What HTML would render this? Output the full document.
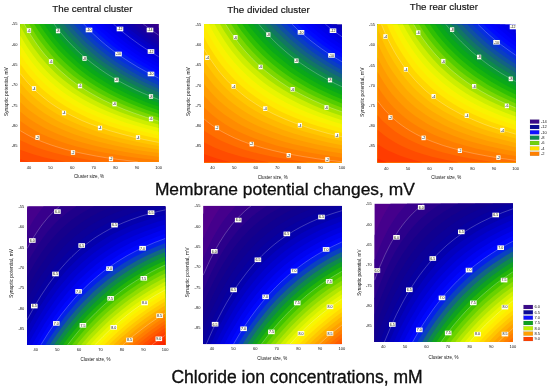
<!DOCTYPE html>
<html><head><meta charset="utf-8"><title>Contour plots</title>
<style>html,body{margin:0;padding:0;background:#fff}svg{display:block}text{font-family:"Liberation Sans",sans-serif;fill:#111}</style></head><body>
<svg width="550" height="389" viewBox="0 0 550 389">
<rect width="550" height="389" fill="#fff"/>
<g>
<rect x="20.3" y="24.0" width="138.3" height="137.8" fill="#3b0085"/>
<path d="M23.8 24.0L158.1 24.0L158.6 24.4L158.6 161.8L20.3 161.8L20.3 24.0Z" fill="#35008a"/>
<path d="M23.8 24.0L153.1 24.0L158.6 28.0L158.6 161.8L20.3 161.8L20.3 24.0Z" fill="#2e008f"/>
<path d="M23.8 24.0L148.1 24.0L152.8 27.4L158.6 31.5L158.6 161.8L20.3 161.8L20.3 24.0Z" fill="#270094"/>
<path d="M23.8 24.0L143.2 24.0L151.7 30.3L158.6 35.1L158.6 161.8L20.3 161.8L20.3 24.0Z" fill="#200099"/>
<path d="M23.8 24.0L138.2 24.0L142.7 27.4L148.2 31.6L158.6 38.7L158.6 161.8L20.3 161.8L20.3 24.0Z" fill="#1800a0"/>
<path d="M23.8 24.0L133.3 24.0L137.9 27.6L144.8 32.8L151.7 37.7L158.6 42.3L158.6 161.8L20.3 161.8L20.3 24.0Z" fill="#1000a7"/>
<path d="M23.8 24.0L128.3 24.0L134.4 28.9L141.5 34.3L151.4 41.2L158.6 45.8L158.6 161.8L20.3 161.8L20.3 24.0Z" fill="#0a00b2"/>
<path d="M23.8 24.0L123.4 24.0L131.8 30.9L140.9 37.8L148.2 42.8L158.6 49.4L158.6 161.8L20.3 161.8L20.3 24.0Z" fill="#0600c1"/>
<path d="M23.8 24.0L118.4 24.0L122.4 27.4L127.5 31.6L130.9 34.3L137.9 39.5L148.2 46.6L158.6 53.0L158.6 161.8L20.3 161.8L20.3 24.0Z" fill="#0200d0"/>
<path d="M23.8 24.0L113.4 24.0L117.3 27.4L124.0 33.0L130.1 37.8L134.8 41.2L139.6 44.7L144.8 48.1L151.7 52.5L158.6 56.6L158.6 161.8L20.3 161.8L20.3 24.0Z" fill="#0000dd"/>
<path d="M23.8 24.0L108.5 24.0L113.7 28.7L120.3 34.3L124.7 37.8L130.9 42.5L137.9 47.4L144.2 51.6L151.7 56.2L158.6 60.2L158.6 161.8L20.3 161.8L20.3 24.0Z" fill="#0000e9"/>
<path d="M23.8 24.0L103.5 24.0L110.2 30.1L115.0 34.3L120.6 38.8L128.3 44.7L134.4 49.0L143.6 55.0L151.7 59.9L158.6 63.7L158.6 161.8L20.3 161.8L20.3 24.0Z" fill="#0000f4"/>
<path d="M23.8 24.0L98.6 24.0L105.9 30.9L113.7 37.6L120.6 43.2L127.3 48.1L134.4 53.0L143.0 58.5L151.7 63.6L158.6 67.3L158.6 161.8L20.3 161.8L20.3 24.0Z" fill="#0003fc"/>
<path d="M23.8 24.0L93.6 24.0L100.7 30.9L108.4 37.8L116.9 44.7L124.0 50.0L131.3 55.0L141.3 61.3L148.2 65.3L158.6 70.9L158.6 161.8L20.3 161.8L20.3 24.0Z" fill="#000aff"/>
<path d="M23.8 24.0L88.7 24.0L95.5 30.9L103.3 38.1L111.2 44.7L120.3 51.6L127.5 56.6L137.9 63.2L148.2 69.1L158.6 74.5L158.6 161.8L20.3 161.8L20.3 24.0Z" fill="#031ef2"/>
<path d="M23.8 24.0L83.7 24.0L90.3 30.9L93.8 34.3L99.8 39.8L105.5 44.7L109.8 48.1L117.1 53.7L120.6 56.1L127.5 60.7L137.9 67.1L148.2 72.8L158.6 78.0L158.6 161.8L20.3 161.8L20.3 24.0Z" fill="#072fde"/>
<path d="M23.8 24.0L78.8 24.0L86.0 31.8L92.1 37.8L95.9 41.2L103.9 48.1L108.3 51.6L113.7 55.6L117.7 58.5L124.0 62.7L128.2 65.3L134.4 69.1L140.0 72.2L146.4 75.7L151.7 78.3L158.6 81.6L158.6 161.8L20.3 161.8L20.3 24.0Z" fill="#0a3ec3"/>
<path d="M23.8 24.0L73.8 24.0L79.1 29.9L82.5 33.6L86.7 37.8L90.3 41.2L94.1 44.7L99.8 49.6L106.7 55.0L111.4 58.5L116.3 61.9L121.5 65.3L127.0 68.8L132.9 72.2L139.1 75.7L145.8 79.1L151.7 82.0L158.6 85.2L158.6 161.8L20.3 161.8L20.3 24.0Z" fill="#0f51a2"/>
<path d="M23.8 24.0L68.8 24.0L72.2 27.9L77.9 34.3L82.5 39.0L86.0 42.4L92.3 48.1L96.3 51.6L100.6 55.0L106.7 59.7L110.2 62.2L117.1 66.9L124.0 71.2L130.9 75.2L137.9 78.9L144.8 82.4L151.7 85.7L158.6 88.8L158.6 161.8L20.3 161.8L20.3 24.0Z" fill="#126382"/>
<path d="M23.8 24.0L63.9 24.0L68.7 29.9L72.6 34.3L79.1 41.1L82.5 44.5L86.4 48.1L92.9 53.8L98.7 58.5L103.3 61.9L108.1 65.3L113.7 69.1L120.6 73.4L127.5 77.4L134.4 81.1L141.3 84.6L148.2 87.8L158.6 92.3L158.6 161.8L20.3 161.8L20.3 24.0Z" fill="#127664"/>
<path d="M23.8 24.0L58.9 24.0L64.4 30.9L68.7 35.9L73.6 41.2L79.1 46.7L84.3 51.6L89.4 56.0L96.4 61.6L101.4 65.3L106.7 69.0L113.7 73.5L120.6 77.7L127.5 81.5L136.2 86.0L143.4 89.5L151.2 92.9L158.6 95.9L158.6 161.8L20.3 161.8L20.3 24.0Z" fill="#0d8b49"/>
<path d="M23.8 24.0L54.0 24.0L59.2 30.9L65.0 37.8L68.7 41.9L74.7 48.1L79.1 52.3L86.1 58.5L92.9 63.9L99.5 68.8L106.7 73.7L113.7 78.0L120.6 82.0L127.5 85.7L135.0 89.5L142.5 92.9L150.6 96.3L158.6 99.5L158.6 161.8L20.3 161.8L20.3 24.0Z" fill="#0a9c30"/>
<path d="M23.8 24.0L49.0 24.0L54.1 30.9L58.3 36.3L62.5 41.2L68.9 48.1L75.6 54.7L79.8 58.4L86.0 63.7L92.9 69.0L99.8 73.9L107.9 79.1L117.1 84.5L124.0 88.1L133.8 92.9L141.3 96.2L149.9 99.8L158.6 103.1L158.6 161.8L20.3 161.8L20.3 24.0Z" fill="#0aa819"/>
<path d="M23.8 24.0L44.1 24.0L48.9 30.9L54.1 37.8L59.9 44.7L65.2 50.4L72.2 57.3L77.3 61.9L82.5 66.3L90.3 72.2L96.4 76.5L100.4 79.1L105.9 82.6L113.7 87.0L120.6 90.6L127.5 94.0L137.9 98.7L148.2 102.9L158.6 106.6L158.6 161.8L20.3 161.8L20.3 24.0Z" fill="#17b30c"/>
<path d="M23.8 24.0L39.1 24.0L44.5 32.0L48.0 36.8L51.4 41.2L54.9 45.4L58.3 49.4L65.2 56.6L72.2 63.1L79.1 69.0L83.2 72.2L87.8 75.7L96.4 81.5L103.3 85.7L109.9 89.5L117.1 93.3L124.0 96.6L131.1 99.8L141.3 104.0L148.4 106.7L158.6 110.2L158.6 161.8L20.3 161.8L20.3 24.0Z" fill="#30c003"/>
<path d="M23.8 24.0L34.1 24.0L37.6 29.5L40.9 34.3L45.9 41.2L51.4 48.1L54.9 52.1L58.3 55.9L65.2 62.8L72.2 69.0L76.1 72.2L80.5 75.7L85.2 79.1L89.4 82.0L96.4 86.4L103.3 90.5L110.2 94.2L120.6 99.3L129.6 103.2L138.2 106.7L148.2 110.4L158.6 113.8L158.6 161.8L20.3 161.8L20.3 24.0Z" fill="#55cd00"/>
<path d="M23.8 24.0L29.2 24.0L34.1 32.1L37.6 37.4L40.3 41.2L45.6 48.1L51.4 55.1L54.9 58.9L58.3 62.4L65.2 69.0L69.0 72.2L73.2 75.7L77.7 79.1L82.5 82.6L89.4 87.2L93.1 89.5L99.0 92.9L106.7 97.1L117.1 102.1L127.5 106.5L136.8 110.1L148.2 114.1L158.6 117.4L158.6 161.8L20.3 161.8L20.3 24.0Z" fill="#7dd800"/>
<path d="M23.8 24.0L24.2 24.0L27.2 29.3L30.7 35.0L34.1 40.3L37.2 44.7L42.4 51.6L48.0 58.2L51.3 61.9L54.6 65.3L58.2 68.8L61.8 72.1L68.7 78.0L75.6 83.3L79.5 86.0L84.7 89.5L92.9 94.4L102.8 99.8L113.7 104.9L124.0 109.3L134.4 113.2L145.5 117.0L158.6 121.0L158.6 161.8L20.3 161.8L20.3 24.0Z" fill="#a5e300"/>
<path d="M21.1 27.4L23.8 32.3L27.0 37.8L31.5 44.7L34.1 48.5L37.6 53.1L41.0 57.5L44.5 61.5L48.0 65.3L51.3 68.8L54.8 72.2L58.3 75.5L65.2 81.3L72.2 86.6L76.3 89.5L81.6 92.9L89.4 97.6L93.4 99.8L99.8 103.1L110.2 107.9L120.6 112.2L127.5 114.8L133.7 117.0L144.8 120.6L158.6 124.5L158.6 161.8L20.3 161.8L20.3 26.0Z" fill="#cdee00"/>
<path d="M21.6 37.8L23.8 41.4L27.2 46.9L30.4 51.6L32.9 55.0L38.3 61.9L44.4 68.8L47.7 72.2L51.2 75.7L54.9 79.0L58.3 82.0L65.2 87.5L72.8 92.9L78.2 96.3L82.5 99.0L90.3 103.2L99.8 108.0L110.2 112.5L120.6 116.6L131.9 120.5L144.8 124.4L158.6 128.1L158.6 161.8L20.3 161.8L20.3 35.5Z" fill="#e8f500"/>
<path d="M22.2 48.1L26.8 55.0L31.8 61.9L37.6 68.9L41.0 72.7L44.5 76.3L51.2 82.6L58.3 88.5L65.2 93.7L69.1 96.3L74.5 99.8L82.5 104.4L86.8 106.7L92.9 109.7L101.5 113.6L110.2 117.1L120.6 120.9L127.5 123.2L134.4 125.3L144.8 128.2L158.6 131.7L158.6 161.8L20.3 161.8L20.3 45.0Z" fill="#f9f300"/>
<path d="M20.6 55.0L25.3 61.9L30.7 68.9L36.6 75.7L39.8 79.1L43.3 82.6L47.1 86.0L51.1 89.5L58.3 95.1L65.1 99.8L72.2 104.2L76.6 106.7L82.5 109.9L90.2 113.6L99.8 117.7L110.2 121.7L120.6 125.2L127.5 127.3L134.4 129.3L144.8 132.0L158.6 135.3L158.6 161.8L20.3 161.8L20.3 54.5Z" fill="#ffea00"/>
<path d="M21.2 65.3L26.4 72.2L29.3 75.7L32.3 79.1L37.6 84.6L41.0 87.9L44.5 91.0L51.0 96.3L58.3 101.6L65.2 106.1L72.3 110.1L79.1 113.6L89.4 118.4L99.8 122.6L110.2 126.3L120.6 129.5L134.4 133.3L144.8 135.8L158.6 138.8L158.6 161.8L20.3 161.8L20.3 64.0Z" fill="#ffd700"/>
<path d="M21.9 75.7L24.7 79.1L27.7 82.6L30.9 86.0L34.1 89.3L38.0 92.9L44.5 98.4L51.4 103.6L58.3 108.1L65.2 112.2L74.4 117.0L81.9 120.5L90.2 123.9L99.8 127.4L110.2 130.8L122.1 134.2L134.4 137.3L144.8 139.7L158.6 142.4L158.6 161.8L20.3 161.8L20.3 73.6Z" fill="#ffc700"/>
<path d="M22.8 86.0L25.9 89.5L29.3 92.9L34.1 97.4L37.6 100.4L41.0 103.2L45.8 106.7L51.4 110.5L58.3 114.7L65.2 118.4L69.4 120.5L75.6 123.3L82.5 126.2L92.9 130.0L103.3 133.4L113.7 136.4L124.0 139.0L134.4 141.3L144.8 143.5L158.6 146.0L158.6 161.8L20.3 161.8L20.3 83.1Z" fill="#ffb800"/>
<path d="M20.6 92.9L23.9 96.3L27.2 99.6L31.3 103.2L37.6 108.3L44.5 113.2L50.7 117.0L56.9 120.5L63.8 123.9L72.2 127.6L80.2 130.8L90.2 134.2L99.8 137.2L110.2 140.0L120.6 142.5L134.4 145.4L144.8 147.3L158.6 149.6L158.6 161.8L20.3 161.8L20.3 92.6Z" fill="#ffa900"/>
<path d="M21.5 103.2L27.2 108.4L30.7 111.2L33.9 113.6L38.9 117.0L44.5 120.5L51.4 124.4L58.3 127.7L65.3 130.8L74.2 134.2L82.5 137.1L92.9 140.2L99.8 142.1L110.3 144.6L120.6 146.8L134.4 149.4L147.1 151.5L158.6 153.1L158.6 161.8L20.3 161.8L20.3 102.1Z" fill="#ff9b00"/>
<path d="M22.6 113.6L27.2 117.2L31.9 120.5L37.6 124.1L44.5 127.9L51.4 131.3L58.3 134.3L67.3 137.7L75.6 140.5L82.5 142.5L92.9 145.3L103.3 147.7L113.7 149.8L124.0 151.7L134.4 153.4L144.8 154.9L158.6 156.7L158.6 161.8L20.3 161.8L20.3 111.6Z" fill="#ff8c00"/>
<path d="M23.8 123.6L29.4 127.3L35.4 130.8L41.0 133.7L48.0 136.8L54.9 139.6L61.8 142.0L68.7 144.2L75.6 146.2L82.7 148.0L92.9 150.4L103.3 152.5L113.7 154.3L124.0 155.9L134.4 157.4L144.8 158.7L158.6 160.3L158.6 161.8L20.3 161.8L20.3 121.1Z" fill="#ff7d00"/>
<path d="M20.5 130.8L26.3 134.2L30.7 136.6L34.1 138.2L40.7 141.1L44.5 142.6L51.4 145.1L58.3 147.3L65.2 149.3L72.2 151.1L79.1 152.7L86.0 154.1L96.4 156.1L106.7 157.8L117.1 159.3L137.8 161.8L20.3 161.8L20.3 130.7Z" fill="#ff6e00"/>
<path d="M22.1 141.1L29.6 144.6L37.6 147.7L44.5 150.0L54.9 153.0L65.2 155.5L75.6 157.6L89.4 160.0L101.9 161.8L20.3 161.8L20.3 140.2Z" fill="#ff5d00"/>
<path d="M23.8 151.1L27.2 152.3L34.1 154.6L44.5 157.4L54.9 159.7L66.0 161.8L20.3 161.8L20.3 149.7Z" fill="#ff4c00"/>
<path d="M23.8 160.2L30.0 161.8L20.3 161.8L20.3 159.2Z" fill="#ff3c00"/>
<path d="M143.2 24.0L151.7 30.3L158.6 35.1" fill="none" stroke="#fff" stroke-opacity="0.4" stroke-width="0.6"/>
<path d="M113.4 24.0L117.3 27.4L124.0 33.0L130.1 37.8L134.8 41.2L139.6 44.7L144.8 48.1L151.7 52.5L158.6 56.6" fill="none" stroke="#fff" stroke-opacity="0.4" stroke-width="0.6"/>
<path d="M83.7 24.0L90.3 30.9L93.8 34.3L99.8 39.8L105.5 44.7L109.8 48.1L117.1 53.7L120.6 56.1L127.5 60.7L137.9 67.1L148.2 72.8L158.6 78.0" fill="none" stroke="#fff" stroke-opacity="0.4" stroke-width="0.6"/>
<path d="M54.0 24.0L59.2 30.9L65.0 37.8L68.7 41.9L74.7 48.1L79.1 52.3L86.1 58.5L92.9 63.9L99.5 68.8L106.7 73.7L113.7 78.0L120.6 82.0L127.5 85.7L135.0 89.5L142.5 92.9L150.6 96.3L158.6 99.5" fill="none" stroke="#fff" stroke-opacity="0.4" stroke-width="0.6"/>
<path d="M24.2 24.0L27.2 29.3L30.3 34.3L34.8 41.2L37.6 45.2L41.0 49.8L44.5 54.2L48.0 58.2L51.3 61.9L54.6 65.3L58.2 68.8L61.8 72.1L68.7 78.0L75.6 83.3L79.5 86.0L84.7 89.5L92.9 94.4L102.8 99.8L113.7 104.9L124.0 109.3L134.4 113.2L145.5 117.0L158.6 121.0" fill="none" stroke="#fff" stroke-opacity="0.4" stroke-width="0.6"/>
<path d="M20.3 73.6L24.7 79.1L27.7 82.6L30.7 85.8L34.1 89.3L37.6 92.5L42.0 96.3L48.0 101.1L51.4 103.6L56.0 106.7L61.6 110.1L65.2 112.2L72.2 115.9L81.9 120.5L90.2 123.9L99.8 127.4L110.1 130.8L122.1 134.2L134.4 137.3L144.8 139.7L158.6 142.4" fill="none" stroke="#fff" stroke-opacity="0.4" stroke-width="0.6"/>
<path d="M20.3 130.7L26.3 134.2L30.7 136.6L34.1 138.2L40.7 141.1L44.5 142.6L51.4 145.1L58.3 147.3L65.2 149.3L72.2 151.1L79.1 152.7L86.0 154.1L96.4 156.1L106.7 157.8L117.1 159.3L137.8 161.8" fill="none" stroke="#fff" stroke-opacity="0.4" stroke-width="0.6"/>
<rect x="26.9" y="28.2" width="4.2" height="4.6" fill="#fffff4"/>
<text x="29.0" y="31.8" font-size="3.6" text-anchor="middle" fill="#3a3340">-6</text>
<rect x="55.9" y="28.7" width="4.2" height="4.6" fill="#fffff4"/>
<text x="58.0" y="32.3" font-size="3.6" text-anchor="middle" fill="#3a3340">-8</text>
<rect x="85.7" y="27.7" width="6.6" height="4.6" fill="#fffff4"/>
<text x="89.0" y="31.3" font-size="3.6" text-anchor="middle" fill="#3a3340">-10</text>
<rect x="116.7" y="26.7" width="6.6" height="4.6" fill="#fffff4"/>
<text x="120.0" y="30.3" font-size="3.6" text-anchor="middle" fill="#3a3340">-12</text>
<rect x="146.7" y="27.7" width="6.6" height="4.6" fill="#fffff4"/>
<text x="150.0" y="31.3" font-size="3.6" text-anchor="middle" fill="#3a3340">-14</text>
<rect x="115.2" y="51.7" width="6.6" height="4.6" fill="#fffff4"/>
<text x="118.5" y="55.3" font-size="3.6" text-anchor="middle" fill="#3a3340">-10</text>
<rect x="147.7" y="49.2" width="6.6" height="4.6" fill="#fffff4"/>
<text x="151.0" y="52.8" font-size="3.6" text-anchor="middle" fill="#3a3340">-12</text>
<rect x="147.7" y="71.7" width="6.6" height="4.6" fill="#fffff4"/>
<text x="151.0" y="75.3" font-size="3.6" text-anchor="middle" fill="#3a3340">-10</text>
<rect x="48.9" y="59.2" width="4.2" height="4.6" fill="#fffff4"/>
<text x="51.0" y="62.8" font-size="3.6" text-anchor="middle" fill="#3a3340">-6</text>
<rect x="82.4" y="56.2" width="4.2" height="4.6" fill="#fffff4"/>
<text x="84.5" y="59.8" font-size="3.6" text-anchor="middle" fill="#3a3340">-8</text>
<rect x="114.4" y="77.7" width="4.2" height="4.6" fill="#fffff4"/>
<text x="116.5" y="81.3" font-size="3.6" text-anchor="middle" fill="#3a3340">-8</text>
<rect x="148.9" y="94.2" width="4.2" height="4.6" fill="#fffff4"/>
<text x="151.0" y="97.8" font-size="3.6" text-anchor="middle" fill="#3a3340">-8</text>
<rect x="31.9" y="86.2" width="4.2" height="4.6" fill="#fffff4"/>
<text x="34.0" y="89.8" font-size="3.6" text-anchor="middle" fill="#3a3340">-4</text>
<rect x="77.9" y="83.7" width="4.2" height="4.6" fill="#fffff4"/>
<text x="80.0" y="87.3" font-size="3.6" text-anchor="middle" fill="#3a3340">-6</text>
<rect x="112.4" y="101.7" width="4.2" height="4.6" fill="#fffff4"/>
<text x="114.5" y="105.3" font-size="3.6" text-anchor="middle" fill="#3a3340">-6</text>
<rect x="148.9" y="116.7" width="4.2" height="4.6" fill="#fffff4"/>
<text x="151.0" y="120.3" font-size="3.6" text-anchor="middle" fill="#3a3340">-6</text>
<rect x="61.9" y="110.7" width="4.2" height="4.6" fill="#fffff4"/>
<text x="64.0" y="114.3" font-size="3.6" text-anchor="middle" fill="#3a3340">-4</text>
<rect x="97.9" y="125.7" width="4.2" height="4.6" fill="#fffff4"/>
<text x="100.0" y="129.3" font-size="3.6" text-anchor="middle" fill="#3a3340">-4</text>
<rect x="135.9" y="135.2" width="4.2" height="4.6" fill="#fffff4"/>
<text x="138.0" y="138.8" font-size="3.6" text-anchor="middle" fill="#3a3340">-4</text>
<rect x="35.4" y="135.2" width="4.2" height="4.6" fill="#fffff4"/>
<text x="37.5" y="138.8" font-size="3.6" text-anchor="middle" fill="#3a3340">-2</text>
<rect x="70.9" y="150.2" width="4.2" height="4.6" fill="#fffff4"/>
<text x="73.0" y="153.8" font-size="3.6" text-anchor="middle" fill="#3a3340">-2</text>
<rect x="108.9" y="156.7" width="4.2" height="4.6" fill="#fffff4"/>
<text x="111.0" y="160.3" font-size="3.6" text-anchor="middle" fill="#3a3340">-2</text>
<text x="28.9" y="169.0" font-size="4" text-anchor="middle" fill="#333">40</text>
<text x="50.6" y="169.0" font-size="4" text-anchor="middle" fill="#333">50</text>
<text x="72.2" y="169.0" font-size="4" text-anchor="middle" fill="#333">60</text>
<text x="93.8" y="169.0" font-size="4" text-anchor="middle" fill="#333">70</text>
<text x="115.4" y="169.0" font-size="4" text-anchor="middle" fill="#333">80</text>
<text x="137.0" y="169.0" font-size="4" text-anchor="middle" fill="#333">90</text>
<text x="158.6" y="169.0" font-size="4" text-anchor="middle" fill="#333">100</text>
<text x="17.5" y="25.4" font-size="4" text-anchor="end" fill="#333">-55</text>
<text x="17.5" y="45.7" font-size="4" text-anchor="end" fill="#333">-60</text>
<text x="17.5" y="65.9" font-size="4" text-anchor="end" fill="#333">-65</text>
<text x="17.5" y="86.2" font-size="4" text-anchor="end" fill="#333">-70</text>
<text x="17.5" y="106.5" font-size="4" text-anchor="end" fill="#333">-75</text>
<text x="17.5" y="126.7" font-size="4" text-anchor="end" fill="#333">-80</text>
<text x="17.5" y="147.0" font-size="4" text-anchor="end" fill="#333">-85</text>
<text x="89.0" y="178.2" font-size="4.5" text-anchor="middle" textLength="30" lengthAdjust="spacingAndGlyphs" fill="#222">Cluster size, %</text>
<text transform="translate(8.0 91.7) rotate(-90)" font-size="4.5" text-anchor="middle" textLength="49.2" lengthAdjust="spacingAndGlyphs" fill="#222">Synaptic potential, mV</text>
</g>
<g>
<rect x="204.0" y="24.3" width="138.0" height="137.9" fill="#0a00b1"/>
<path d="M207.4 24.3L336.5 24.3L342.0 28.5L342.0 162.2L204.0 162.2L204.0 24.3Z" fill="#0600c0"/>
<path d="M207.4 24.3L330.9 24.3L335.4 27.7L342.0 32.6L342.0 162.2L204.0 162.2L204.0 24.3Z" fill="#0200d0"/>
<path d="M207.4 24.3L325.4 24.3L334.2 31.2L342.0 36.8L342.0 162.2L204.0 162.2L204.0 24.3Z" fill="#0000dd"/>
<path d="M207.4 24.3L319.9 24.3L324.8 28.3L331.6 33.6L337.8 38.1L342.0 41.0L342.0 162.2L204.0 162.2L204.0 24.3Z" fill="#0000e9"/>
<path d="M207.4 24.3L314.3 24.3L321.3 30.1L328.2 35.5L335.1 40.5L342.0 45.1L342.0 162.2L204.0 162.2L204.0 24.3Z" fill="#0000f4"/>
<path d="M207.4 24.3L308.8 24.3L316.9 31.2L324.8 37.4L331.6 42.4L342.0 49.3L342.0 162.2L204.0 162.2L204.0 24.3Z" fill="#0003fc"/>
<path d="M207.4 24.3L303.2 24.3L311.1 31.2L315.3 34.6L321.3 39.3L324.8 41.9L331.6 46.8L342.0 53.5L342.0 162.2L204.0 162.2L204.0 24.3Z" fill="#000aff"/>
<path d="M207.4 24.3L297.7 24.3L301.4 27.7L307.5 33.1L313.6 38.1L318.0 41.5L322.7 45.0L328.2 48.8L335.1 53.4L342.0 57.6L342.0 162.2L204.0 162.2L204.0 24.3Z" fill="#031ef2"/>
<path d="M207.4 24.3L292.2 24.3L297.1 29.1L304.1 35.2L310.9 40.8L316.4 45.0L321.3 48.6L328.2 53.3L335.1 57.7L342.0 61.8L342.0 162.2L204.0 162.2L204.0 24.3Z" fill="#072fde"/>
<path d="M207.4 24.3L286.6 24.3L293.7 31.2L297.5 34.6L304.1 40.2L310.9 45.7L317.9 50.8L324.8 55.5L331.6 59.9L342.0 66.0L342.0 162.2L204.0 162.2L204.0 24.3Z" fill="#0a3ec3"/>
<path d="M207.4 24.3L281.1 24.3L286.8 30.1L293.7 36.6L300.6 42.5L308.1 48.4L312.7 51.9L317.6 55.3L324.8 60.0L334.0 65.7L342.0 70.1L342.0 162.2L204.0 162.2L204.0 24.3Z" fill="#0f51a2"/>
<path d="M207.4 24.3L275.5 24.3L282.1 31.2L285.7 34.6L290.2 38.9L297.3 45.0L306.0 51.9L310.8 55.3L315.7 58.8L324.8 64.6L332.4 69.1L342.0 74.3L342.0 162.2L204.0 162.2L204.0 24.3Z" fill="#126382"/>
<path d="M207.4 24.3L270.0 24.3L276.4 31.2L279.8 34.6L286.8 41.3L295.0 48.4L299.4 51.9L303.9 55.3L308.7 58.8L313.8 62.2L321.3 67.0L331.6 73.0L342.0 78.5L342.0 162.2L204.0 162.2L204.0 24.3Z" fill="#127664"/>
<path d="M207.4 24.3L264.5 24.3L269.6 30.1L273.0 33.8L277.3 38.1L280.8 41.5L284.6 45.0L290.2 49.9L293.7 52.7L300.6 58.0L306.5 62.2L310.9 65.2L317.1 69.1L321.3 71.6L331.6 77.4L342.0 82.6L342.0 162.2L204.0 162.2L204.0 24.3Z" fill="#0d8b49"/>
<path d="M207.4 24.3L258.9 24.3L262.6 28.8L267.9 34.6L273.0 39.9L276.4 43.3L282.0 48.4L286.0 51.9L290.2 55.4L294.6 58.8L300.6 63.2L307.5 67.9L317.9 74.3L328.2 80.0L335.1 83.5L342.0 86.8L342.0 162.2L204.0 162.2L204.0 24.3Z" fill="#0a9c30"/>
<path d="M207.4 24.3L253.4 24.3L259.0 31.2L262.0 34.6L266.1 39.1L271.9 45.0L276.4 49.3L283.3 55.3L287.6 58.8L292.0 62.2L296.8 65.7L301.8 69.1L307.5 72.8L314.4 77.0L321.3 80.9L328.2 84.5L335.1 87.8L342.0 91.0L342.0 162.2L204.0 162.2L204.0 24.3Z" fill="#0aa819"/>
<path d="M207.4 24.3L247.8 24.3L252.3 30.1L256.1 34.6L262.2 41.5L266.1 45.6L272.6 51.9L276.5 55.3L283.4 61.1L289.3 65.7L294.1 69.1L300.6 73.5L307.5 77.8L314.4 81.8L321.3 85.5L328.2 88.9L335.1 92.1L342.0 95.1L342.0 162.2L204.0 162.2L204.0 24.3Z" fill="#17b30c"/>
<path d="M207.4 24.3L242.3 24.3L247.4 31.2L252.3 37.2L256.0 41.5L262.5 48.4L266.1 52.0L273.0 58.4L277.6 62.2L283.4 66.8L290.2 71.9L296.4 76.0L304.1 80.8L310.9 84.7L317.9 88.4L324.8 91.8L331.6 94.9L342.0 99.3L342.0 162.2L204.0 162.2L204.0 24.3Z" fill="#30c003"/>
<path d="M207.4 24.3L236.8 24.3L241.6 31.2L245.4 36.1L249.8 41.5L256.0 48.4L262.6 55.2L266.4 58.8L273.0 64.5L279.9 70.0L286.8 75.0L293.5 79.5L300.6 83.8L307.5 87.7L314.4 91.3L324.8 96.3L333.6 100.1L342.0 103.5L342.0 162.2L204.0 162.2L204.0 24.3Z" fill="#55cd00"/>
<path d="M207.4 24.3L231.2 24.3L235.8 31.2L240.9 38.1L246.5 45.0L252.3 51.6L259.2 58.6L263.1 62.2L269.6 67.9L276.4 73.3L283.4 78.3L290.3 82.9L297.1 87.0L302.1 89.8L307.5 92.7L315.6 96.7L324.8 100.8L331.6 103.7L342.0 107.7L342.0 162.2L204.0 162.2L204.0 24.3Z" fill="#7dd800"/>
<path d="M207.4 24.3L225.7 24.3L230.1 31.2L235.1 38.4L240.1 45.0L245.9 51.9L252.3 58.8L259.2 65.4L266.1 71.4L273.0 76.8L279.9 81.7L287.0 86.4L293.7 90.4L298.9 93.2L304.1 95.9L312.7 100.1L321.3 103.9L331.6 108.1L342.0 111.8L342.0 162.2L204.0 162.2L204.0 24.3Z" fill="#a5e300"/>
<path d="M207.4 24.3L220.1 24.3L224.3 31.2L226.5 34.6L231.6 42.1L235.1 46.7L238.5 51.0L241.9 55.1L245.3 58.8L248.9 62.5L252.3 65.9L255.8 69.1L259.7 72.6L263.8 76.0L268.2 79.5L276.4 85.3L283.4 89.8L290.2 93.8L297.1 97.6L307.5 102.6L314.4 105.7L324.8 109.9L331.6 112.5L342.0 116.0L342.0 162.2L204.0 162.2L204.0 24.3Z" fill="#cdee00"/>
<path d="M207.4 24.3L214.6 24.3L217.8 30.0L220.6 34.6L225.0 41.5L228.2 46.0L231.6 50.7L235.1 55.0L238.5 59.1L241.9 62.9L245.4 66.5L252.3 73.1L255.8 76.1L259.8 79.5L264.2 82.9L269.0 86.4L276.4 91.3L283.4 95.5L291.8 100.1L300.6 104.5L310.9 109.1L321.3 113.2L331.6 116.8L342.0 120.2L342.0 162.2L204.0 162.2L204.0 24.3Z" fill="#e8f500"/>
<path d="M207.4 24.3L209.1 24.3L212.7 31.2L214.6 34.6L217.8 39.9L221.0 45.0L224.7 50.3L228.2 54.9L234.1 62.2L240.4 69.1L245.4 74.1L252.3 80.2L255.8 83.1L260.0 86.4L264.8 89.8L269.6 93.0L276.4 97.3L281.4 100.1L286.8 103.1L297.1 108.1L307.5 112.6L317.9 116.5L330.4 120.8L342.0 124.3L342.0 162.2L204.0 162.2L204.0 24.3Z" fill="#f9f300"/>
<path d="M205.2 27.7L207.4 32.2L210.6 38.1L214.7 45.0L217.8 49.8L221.2 54.8L226.9 62.2L232.7 69.1L235.9 72.6L239.3 76.0L243.0 79.5L246.8 82.9L251.0 86.4L255.8 90.0L260.2 93.2L265.3 96.7L273.0 101.4L276.9 103.6L283.4 107.0L293.7 111.9L304.1 116.2L310.9 118.8L316.6 120.8L328.2 124.6L342.0 128.5L342.0 162.2L204.0 162.2L204.0 25.3Z" fill="#ffea00"/>
<path d="M204.6 38.1L207.4 43.4L210.4 48.4L214.7 55.3L217.8 59.7L221.2 64.4L224.7 68.7L228.0 72.6L231.2 76.0L234.6 79.5L238.1 82.9L241.9 86.3L248.9 92.0L255.8 97.0L262.6 101.5L266.1 103.6L273.0 107.5L278.7 110.5L283.4 112.7L293.7 117.3L304.1 121.3L310.9 123.7L317.9 125.9L328.2 129.0L342.0 132.7L342.0 162.2L204.0 162.2L204.0 37.0Z" fill="#ffd700"/>
<path d="M205.8 51.9L210.9 60.0L214.3 65.0L217.4 69.1L223.0 76.0L228.1 81.6L231.6 85.0L235.1 88.3L240.9 93.2L245.2 96.7L248.8 99.3L255.8 104.0L262.6 108.2L266.8 110.5L273.5 113.9L283.4 118.5L293.7 122.6L304.1 126.3L310.9 128.6L317.9 130.6L328.2 133.5L342.0 136.8L342.0 162.2L204.0 162.2L204.0 48.7Z" fill="#ffc700"/>
<path d="M205.1 62.2L209.7 69.1L214.9 76.0L217.8 79.6L220.7 82.9L224.0 86.4L227.5 89.8L231.2 93.2L235.0 96.6L239.5 100.1L244.2 103.6L248.8 106.7L255.8 111.0L262.6 114.8L267.8 117.4L273.0 119.8L283.4 124.2L293.7 128.0L304.1 131.4L315.2 134.6L328.2 137.9L342.0 141.0L342.0 162.2L204.0 162.2L204.0 60.4Z" fill="#ffb800"/>
<path d="M204.3 72.6L209.3 79.5L212.0 82.9L215.0 86.4L218.1 89.8L221.2 93.0L224.7 96.3L228.2 99.4L231.6 102.2L235.1 104.9L241.9 109.8L248.6 113.9L255.8 117.9L262.6 121.4L269.0 124.3L273.0 126.0L283.4 129.9L293.7 133.4L304.1 136.5L317.9 140.0L328.2 142.4L342.0 145.2L342.0 162.2L204.0 162.2L204.0 72.1Z" fill="#ffa900"/>
<path d="M206.0 86.4L210.9 92.2L215.1 96.7L217.8 99.4L221.2 102.5L224.7 105.5L228.2 108.2L235.1 113.2L241.6 117.4L248.8 121.5L255.8 124.9L262.6 128.0L273.0 132.1L283.4 135.7L293.7 138.8L304.1 141.5L317.9 144.7L328.2 146.8L342.0 149.3L342.0 162.2L204.0 162.2L204.0 83.8Z" fill="#ff9b00"/>
<path d="M205.0 96.7L208.2 100.1L210.9 102.9L215.2 107.0L221.2 112.1L224.7 114.7L228.2 117.1L235.1 121.5L241.9 125.4L248.8 128.8L255.8 131.9L262.6 134.6L273.0 138.3L283.4 141.4L293.7 144.2L304.1 146.6L317.9 149.4L328.2 151.3L342.0 153.5L342.0 162.2L204.0 162.2L204.0 95.5Z" fill="#ff8c00"/>
<path d="M207.4 110.5L211.2 113.9L214.3 116.5L217.8 119.2L221.2 121.6L224.7 123.9L231.1 127.7L237.7 131.2L245.1 134.6L252.3 137.6L259.2 140.1L266.1 142.3L276.4 145.4L286.8 148.0L297.1 150.3L307.5 152.3L317.9 154.1L328.2 155.7L342.0 157.7L342.0 162.2L204.0 162.2L204.0 107.2Z" fill="#ff7d00"/>
<path d="M206.3 120.8L210.9 124.4L215.7 127.7L221.3 131.2L228.2 134.9L235.1 138.2L243.2 141.5L252.3 144.7L259.2 146.9L266.1 148.8L276.4 151.4L286.8 153.6L295.8 155.3L307.5 157.3L317.4 158.8L328.2 160.2L342.0 161.8L342.0 162.2L204.0 162.2L204.0 118.9Z" fill="#ff6e00"/>
<path d="M204.8 131.2L210.1 134.6L214.3 137.1L217.8 139.0L223.0 141.5L228.2 143.8L235.1 146.5L240.6 148.4L245.4 149.9L252.2 151.9L259.2 153.7L266.1 155.3L273.0 156.7L279.9 158.0L290.2 159.8L307.2 162.2L204.0 162.2L204.0 130.6Z" fill="#ff5d00"/>
<path d="M207.4 144.1L214.3 147.4L221.2 150.2L228.2 152.7L235.1 154.8L241.9 156.7L250.9 158.8L259.2 160.5L269.0 162.2L204.0 162.2L204.0 142.3Z" fill="#ff4c00"/>
<path d="M207.4 155.3L210.9 156.6L217.8 158.8L224.7 160.7L230.9 162.2L204.0 162.2L204.0 154.0Z" fill="#ff3c00"/>
<path d="M325.4 24.3L334.2 31.2L342.0 36.8" fill="none" stroke="#fff" stroke-opacity="0.4" stroke-width="0.6"/>
<path d="M292.2 24.3L297.1 29.1L304.1 35.2L310.9 40.8L316.4 45.0L321.3 48.6L328.2 53.3L335.1 57.7L342.0 61.8" fill="none" stroke="#fff" stroke-opacity="0.4" stroke-width="0.6"/>
<path d="M258.9 24.3L262.6 28.8L267.9 34.6L273.0 39.9L276.4 43.3L282.0 48.4L286.0 51.9L290.2 55.4L294.6 58.8L300.6 63.2L307.5 67.9L317.9 74.3L328.2 80.0L335.1 83.5L342.0 86.8" fill="none" stroke="#fff" stroke-opacity="0.4" stroke-width="0.6"/>
<path d="M225.7 24.3L230.1 31.2L235.1 38.4L240.1 45.0L245.9 51.9L252.3 58.8L259.2 65.4L266.1 71.4L273.0 76.8L279.9 81.7L287.0 86.4L293.7 90.4L298.9 93.2L304.1 95.9L312.7 100.1L321.3 103.9L331.6 108.1L342.0 111.8" fill="none" stroke="#fff" stroke-opacity="0.4" stroke-width="0.6"/>
<path d="M204.0 48.7L207.4 54.6L210.1 58.8L214.4 65.0L217.4 69.1L220.1 72.6L223.0 76.0L226.1 79.5L229.4 82.9L233.0 86.4L236.8 89.8L240.9 93.2L245.2 96.7L248.8 99.3L255.8 104.0L262.6 108.2L266.8 110.5L273.5 113.9L283.4 118.5L293.7 122.6L304.1 126.3L310.9 128.6L317.9 130.6L328.2 133.5L342.0 136.8" fill="none" stroke="#fff" stroke-opacity="0.4" stroke-width="0.6"/>
<path d="M204.0 118.9L207.4 121.8L210.9 124.4L214.3 126.8L217.8 129.1L221.2 131.2L227.6 134.6L234.8 138.1L241.9 141.0L248.8 143.6L255.8 145.8L264.6 148.4L273.0 150.5L283.4 152.9L293.7 154.9L304.1 156.7L317.4 158.8L328.2 160.2L342.0 161.8" fill="none" stroke="#fff" stroke-opacity="0.4" stroke-width="0.6"/>
<rect x="233.4" y="35.0" width="4.2" height="4.6" fill="#fffff4"/>
<text x="235.5" y="38.6" font-size="3.6" text-anchor="middle" fill="#3a3340">-6</text>
<rect x="266.2" y="32.3" width="4.2" height="4.6" fill="#fffff4"/>
<text x="268.3" y="35.9" font-size="3.6" text-anchor="middle" fill="#3a3340">-8</text>
<rect x="297.7" y="30.0" width="6.6" height="4.6" fill="#fffff4"/>
<text x="301.0" y="33.6" font-size="3.6" text-anchor="middle" fill="#3a3340">-10</text>
<rect x="329.7" y="28.4" width="6.6" height="4.6" fill="#fffff4"/>
<text x="333.0" y="32.0" font-size="3.6" text-anchor="middle" fill="#3a3340">-12</text>
<rect x="205.2" y="55.4" width="4.2" height="4.6" fill="#fffff4"/>
<text x="207.3" y="59.0" font-size="3.6" text-anchor="middle" fill="#3a3340">-4</text>
<rect x="258.5" y="64.7" width="4.2" height="4.6" fill="#fffff4"/>
<text x="260.6" y="68.3" font-size="3.6" text-anchor="middle" fill="#3a3340">-6</text>
<rect x="294.3" y="58.5" width="4.2" height="4.6" fill="#fffff4"/>
<text x="296.4" y="62.1" font-size="3.6" text-anchor="middle" fill="#3a3340">-8</text>
<rect x="328.2" y="53.1" width="6.6" height="4.6" fill="#fffff4"/>
<text x="331.5" y="56.7" font-size="3.6" text-anchor="middle" fill="#3a3340">-10</text>
<rect x="231.5" y="84.0" width="4.2" height="4.6" fill="#fffff4"/>
<text x="233.6" y="87.6" font-size="3.6" text-anchor="middle" fill="#3a3340">-4</text>
<rect x="290.5" y="87.0" width="4.2" height="4.6" fill="#fffff4"/>
<text x="292.6" y="90.6" font-size="3.6" text-anchor="middle" fill="#3a3340">-6</text>
<rect x="327.9" y="77.8" width="4.2" height="4.6" fill="#fffff4"/>
<text x="330.0" y="81.4" font-size="3.6" text-anchor="middle" fill="#3a3340">-8</text>
<rect x="263.1" y="106.3" width="4.2" height="4.6" fill="#fffff4"/>
<text x="265.2" y="109.9" font-size="3.6" text-anchor="middle" fill="#3a3340">-4</text>
<rect x="324.4" y="105.2" width="4.2" height="4.6" fill="#fffff4"/>
<text x="326.5" y="108.8" font-size="3.6" text-anchor="middle" fill="#3a3340">-6</text>
<rect x="214.9" y="125.6" width="4.2" height="4.6" fill="#fffff4"/>
<text x="217.0" y="129.2" font-size="3.6" text-anchor="middle" fill="#3a3340">-2</text>
<rect x="297.8" y="122.9" width="4.2" height="4.6" fill="#fffff4"/>
<text x="299.9" y="126.5" font-size="3.6" text-anchor="middle" fill="#3a3340">-4</text>
<rect x="334.9" y="132.9" width="4.2" height="4.6" fill="#fffff4"/>
<text x="337.0" y="136.5" font-size="3.6" text-anchor="middle" fill="#3a3340">-4</text>
<rect x="249.6" y="141.8" width="4.2" height="4.6" fill="#fffff4"/>
<text x="251.7" y="145.4" font-size="3.6" text-anchor="middle" fill="#3a3340">-2</text>
<rect x="286.6" y="153.0" width="4.2" height="4.6" fill="#fffff4"/>
<text x="288.7" y="156.6" font-size="3.6" text-anchor="middle" fill="#3a3340">-2</text>
<rect x="325.2" y="157.2" width="4.2" height="4.6" fill="#fffff4"/>
<text x="327.3" y="160.8" font-size="3.6" text-anchor="middle" fill="#3a3340">-2</text>
<text x="212.6" y="169.1" font-size="4" text-anchor="middle" fill="#333">40</text>
<text x="234.2" y="169.1" font-size="4" text-anchor="middle" fill="#333">50</text>
<text x="255.8" y="169.1" font-size="4" text-anchor="middle" fill="#333">60</text>
<text x="277.3" y="169.1" font-size="4" text-anchor="middle" fill="#333">70</text>
<text x="298.9" y="169.1" font-size="4" text-anchor="middle" fill="#333">80</text>
<text x="320.4" y="169.1" font-size="4" text-anchor="middle" fill="#333">90</text>
<text x="342.0" y="169.1" font-size="4" text-anchor="middle" fill="#333">100</text>
<text x="201.2" y="25.7" font-size="4" text-anchor="end" fill="#333">-55</text>
<text x="201.2" y="46.0" font-size="4" text-anchor="end" fill="#333">-60</text>
<text x="201.2" y="66.3" font-size="4" text-anchor="end" fill="#333">-65</text>
<text x="201.2" y="86.5" font-size="4" text-anchor="end" fill="#333">-70</text>
<text x="201.2" y="106.8" font-size="4" text-anchor="end" fill="#333">-75</text>
<text x="201.2" y="127.1" font-size="4" text-anchor="end" fill="#333">-80</text>
<text x="201.2" y="147.4" font-size="4" text-anchor="end" fill="#333">-85</text>
<text x="272.8" y="178.6" font-size="4.5" text-anchor="middle" textLength="30" lengthAdjust="spacingAndGlyphs" fill="#222">Cluster size, %</text>
<text transform="translate(189.8 91.7) rotate(-90)" font-size="4.5" text-anchor="middle" textLength="49.2" lengthAdjust="spacingAndGlyphs" fill="#222">Synaptic potential, mV</text>
</g>
<g>
<rect x="377.7" y="24.6" width="138.0" height="137.6" fill="#0200d0"/>
<path d="M381.1 24.6L510.5 24.6L515.7 28.9L515.7 162.2L377.7 162.2L377.7 24.6Z" fill="#0000dd"/>
<path d="M381.1 24.6L505.1 24.6L509.2 28.0L515.7 33.2L515.7 162.2L377.7 162.2L377.7 24.6Z" fill="#0000e9"/>
<path d="M381.1 24.6L499.7 24.6L507.8 31.5L515.7 37.6L515.7 162.2L377.7 162.2L377.7 24.6Z" fill="#0000f4"/>
<path d="M381.1 24.6L494.4 24.6L498.5 28.3L505.4 34.1L510.8 38.4L515.7 42.0L515.7 162.2L377.7 162.2L377.7 24.6Z" fill="#0003fc"/>
<path d="M381.1 24.6L489.0 24.6L495.0 30.1L501.9 35.9L508.8 41.4L515.7 46.4L515.7 162.2L377.7 162.2L377.7 24.6Z" fill="#000aff"/>
<path d="M381.1 24.6L483.6 24.6L491.0 31.5L499.1 38.4L507.9 45.2L515.7 50.8L515.7 162.2L377.7 162.2L377.7 24.6Z" fill="#031ef2"/>
<path d="M381.1 24.6L478.2 24.6L485.4 31.5L489.2 34.9L495.0 39.9L501.7 45.2L505.4 47.9L511.2 52.1L515.7 55.2L515.7 162.2L377.7 162.2L377.7 24.6Z" fill="#072fde"/>
<path d="M381.1 24.6L472.9 24.6L476.2 28.0L481.2 32.8L487.3 38.4L491.6 42.0L495.6 45.2L501.9 50.1L508.8 55.0L515.7 59.6L515.7 162.2L377.7 162.2L377.7 24.6Z" fill="#0a3ec3"/>
<path d="M381.1 24.6L467.5 24.6L474.2 31.5L477.8 35.0L484.7 41.2L489.4 45.2L495.0 49.7L501.9 54.8L508.8 59.5L515.7 63.9L515.7 162.2L377.7 162.2L377.7 24.6Z" fill="#0f51a2"/>
<path d="M381.1 24.6L462.1 24.6L468.5 31.5L474.3 37.2L481.2 43.5L487.4 48.7L495.0 54.6L501.2 59.0L508.8 64.1L515.7 68.3L515.7 162.2L377.7 162.2L377.7 24.6Z" fill="#126382"/>
<path d="M381.1 24.6L456.7 24.6L462.9 31.5L469.7 38.4L477.1 45.2L484.6 51.6L491.6 56.9L499.3 62.4L508.8 68.6L515.7 72.7L515.7 162.2L377.7 162.2L377.7 24.6Z" fill="#127664"/>
<path d="M381.1 24.6L451.4 24.6L457.3 31.5L464.0 38.5L471.0 45.2L474.8 48.7L481.2 54.1L488.1 59.4L497.2 65.9L505.4 71.1L515.7 77.1L515.7 162.2L377.7 162.2L377.7 24.6Z" fill="#0d8b49"/>
<path d="M381.1 24.6L446.0 24.6L450.2 29.7L453.6 33.6L457.1 37.4L461.3 41.8L468.5 48.7L472.3 52.1L477.8 56.6L485.2 62.4L490.0 65.9L495.1 69.3L500.5 72.8L505.4 75.7L515.7 81.5L515.7 162.2L377.7 162.2L377.7 24.6Z" fill="#0a9c30"/>
<path d="M381.1 24.6L440.6 24.6L446.1 31.5L449.0 34.9L453.6 40.0L457.1 43.6L462.2 48.7L465.9 52.1L473.9 59.0L478.2 62.4L482.8 65.9L487.7 69.3L492.8 72.8L498.5 76.3L504.1 79.6L510.3 83.1L515.7 85.9L515.7 162.2L377.7 162.2L377.7 24.6Z" fill="#0aa819"/>
<path d="M381.1 24.6L435.3 24.6L439.8 30.6L443.3 34.9L446.7 38.9L452.5 45.2L455.8 48.7L460.5 53.2L467.1 59.0L470.9 62.1L475.6 65.9L481.2 70.0L485.2 72.8L491.6 76.9L496.0 79.6L501.9 83.1L508.8 86.8L515.7 90.3L515.7 162.2L377.7 162.2L377.7 24.6Z" fill="#17b30c"/>
<path d="M381.1 24.6L429.9 24.6L432.9 28.8L437.5 34.9L443.2 41.8L446.7 45.7L450.2 49.3L456.5 55.6L460.5 59.2L467.4 65.1L472.8 69.3L477.8 72.9L484.7 77.6L491.6 81.9L501.9 87.8L508.8 91.3L515.7 94.6L515.7 162.2L377.7 162.2L377.7 24.6Z" fill="#30c003"/>
<path d="M381.1 24.6L424.5 24.6L429.3 31.5L432.9 36.4L437.2 41.8L443.2 48.7L446.7 52.4L453.4 59.0L457.2 62.4L464.0 68.2L469.9 72.8L474.6 76.2L481.2 80.6L488.1 84.9L495.0 88.8L501.9 92.5L508.8 95.9L515.7 99.0L515.7 162.2L377.7 162.2L377.7 24.6Z" fill="#55cd00"/>
<path d="M381.1 24.6L419.1 24.6L423.6 31.5L428.6 38.4L432.9 43.9L436.9 48.7L443.2 55.6L446.7 59.1L453.6 65.6L460.5 71.4L466.7 76.2L471.6 79.6L477.8 83.8L484.6 88.0L491.6 91.9L498.4 95.5L505.4 98.8L515.7 103.4L515.7 162.2L377.7 162.2L377.7 24.6Z" fill="#7dd800"/>
<path d="M381.1 24.6L413.8 24.6L418.0 31.5L422.7 38.4L427.8 45.2L432.9 51.4L436.5 55.6L443.2 62.5L450.2 69.0L454.6 72.8L460.5 77.5L467.4 82.5L474.3 87.1L481.2 91.2L488.1 95.1L498.4 100.3L505.9 103.7L515.7 107.8L515.7 162.2L377.7 162.2L377.7 24.6Z" fill="#a5e300"/>
<path d="M381.1 24.6L408.4 24.6L412.4 31.5L416.8 38.4L421.7 45.2L427.0 52.1L432.9 59.0L439.5 65.9L446.7 72.6L451.0 76.2L457.1 81.0L464.8 86.5L470.0 90.0L474.3 92.6L481.2 96.6L488.3 100.3L498.5 105.1L505.4 108.1L515.7 112.2L515.7 162.2L377.7 162.2L377.7 24.6Z" fill="#cdee00"/>
<path d="M381.1 24.6L403.0 24.6L406.8 31.5L412.2 40.3L418.0 48.7L422.5 54.7L426.1 59.0L429.4 62.8L432.9 66.5L436.4 70.0L439.8 73.2L447.1 79.6L453.6 84.7L461.0 90.0L466.3 93.4L470.9 96.2L477.8 100.0L484.9 103.7L495.0 108.4L505.4 112.7L515.7 116.6L515.7 162.2L377.7 162.2L377.7 24.6Z" fill="#e8f500"/>
<path d="M381.1 24.6L397.6 24.6L401.2 31.5L403.1 34.9L405.3 38.7L409.4 45.2L412.2 49.5L415.6 54.3L419.1 58.8L422.1 62.4L426.0 66.9L429.4 70.6L432.9 74.0L436.4 77.3L443.2 83.3L447.4 86.5L452.0 90.0L457.0 93.4L460.5 95.7L467.4 99.9L474.3 103.7L481.2 107.2L488.6 110.6L498.5 114.7L505.7 117.5L515.7 121.0L515.7 162.2L377.7 162.2L377.7 24.6Z" fill="#f9f300"/>
<path d="M381.1 24.6L392.3 24.6L394.9 30.2L397.4 34.9L401.2 41.8L403.2 45.2L408.8 53.8L412.2 58.6L415.1 62.4L420.8 69.3L424.0 72.8L427.3 76.2L430.8 79.6L434.6 83.1L438.6 86.5L443.2 90.2L450.1 95.2L458.0 100.3L463.9 103.7L467.4 105.7L474.3 109.2L484.7 114.0L493.1 117.5L498.5 119.5L505.4 122.0L515.7 125.3L515.7 162.2L377.7 162.2L377.7 24.6Z" fill="#ffea00"/>
<path d="M381.1 24.6L386.9 24.6L391.6 34.9L394.9 41.4L397.0 45.2L401.1 52.1L403.3 55.6L408.8 63.3L412.2 67.8L415.6 72.0L419.1 75.9L422.6 79.5L426.2 83.1L429.9 86.5L434.0 90.0L438.3 93.4L442.9 96.8L446.7 99.5L453.6 103.9L459.2 107.2L464.0 109.7L472.7 114.0L481.2 117.8L491.6 121.9L501.9 125.5L508.8 127.7L515.7 129.7L515.7 162.2L377.7 162.2L377.7 24.6Z" fill="#ffd700"/>
<path d="M381.1 24.6L381.5 24.6L385.9 34.9L389.1 41.8L391.5 46.4L394.6 52.1L396.7 55.6L401.9 63.6L405.3 68.4L408.7 72.8L414.6 79.6L417.8 83.1L421.2 86.5L424.9 90.0L429.5 93.8L433.2 96.8L437.8 100.3L442.8 103.7L446.7 106.2L450.2 108.3L457.1 112.1L460.7 114.0L467.4 117.3L477.8 121.7L484.5 124.4L491.6 126.9L501.9 130.2L515.7 134.1L515.7 162.2L377.7 162.2L377.7 24.6Z" fill="#ffc700"/>
<path d="M378.7 31.5L383.1 41.8L384.7 45.2L388.1 51.9L391.5 58.1L394.1 62.4L398.6 69.3L401.9 73.9L405.3 78.3L408.8 82.4L412.2 86.2L415.9 90.0L419.6 93.4L423.5 96.8L427.7 100.3L432.3 103.7L436.4 106.5L443.2 110.9L448.7 114.0L453.6 116.6L457.1 118.4L464.0 121.6L474.3 125.9L481.2 128.4L488.1 130.8L501.0 134.7L508.8 136.8L515.7 138.5L515.7 162.2L377.7 162.2L377.7 28.8Z" fill="#ffb800"/>
<path d="M378.6 45.2L381.1 51.0L383.4 55.6L388.0 64.2L391.1 69.3L393.4 72.8L398.4 79.8L401.9 84.2L405.3 88.2L408.8 91.9L412.2 95.3L415.6 98.5L419.1 101.5L422.6 104.3L426.3 107.2L432.9 111.7L436.7 114.0L443.2 117.8L449.2 120.9L453.6 123.0L460.5 126.1L464.7 127.8L474.3 131.4L481.2 133.7L488.1 135.9L495.0 137.8L501.9 139.6L515.7 142.9L515.7 162.2L377.7 162.2L377.7 43.2Z" fill="#ffa900"/>
<path d="M378.3 59.0L381.1 64.6L383.7 69.3L387.9 76.2L392.5 83.1L395.1 86.5L398.4 90.6L400.9 93.4L404.1 96.8L407.5 100.3L411.3 103.7L415.4 107.2L419.1 110.1L426.0 114.9L432.9 119.2L436.4 121.1L443.2 124.7L449.8 127.8L453.6 129.4L464.0 133.4L474.3 136.9L481.2 139.0L488.1 140.9L501.9 144.3L515.7 147.3L515.7 162.2L377.7 162.2L377.7 57.6Z" fill="#ff9b00"/>
<path d="M378.1 72.8L382.0 79.6L384.6 83.8L388.1 88.8L391.5 93.4L394.4 96.8L398.4 101.3L401.9 104.8L405.3 108.0L408.8 110.9L412.2 113.7L415.6 116.2L419.1 118.6L426.0 122.9L429.4 124.9L435.0 127.8L443.2 131.6L453.6 135.8L464.0 139.4L474.3 142.5L481.2 144.3L488.1 146.0L501.9 149.1L515.7 151.7L515.7 162.2L377.7 162.2L377.7 72.1Z" fill="#ff8c00"/>
<path d="M377.7 86.5L382.2 93.4L384.7 96.8L387.4 100.3L390.3 103.7L393.4 107.2L398.4 112.0L401.9 115.1L404.8 117.5L408.8 120.5L412.2 122.9L419.1 127.2L426.6 131.2L433.8 134.7L443.2 138.6L453.6 142.2L464.0 145.3L476.0 148.4L488.1 151.1L501.9 153.8L515.7 156.1L515.7 162.2L377.7 162.2L377.7 86.5Z" fill="#ff7d00"/>
<path d="M379.8 103.7L384.6 109.7L388.6 114.0L391.5 116.8L394.9 119.9L400.5 124.4L405.3 127.8L412.2 132.0L419.1 135.7L424.1 138.1L429.5 140.4L436.4 143.1L446.7 146.6L457.1 149.5L466.6 151.9L477.8 154.3L488.1 156.2L501.9 158.5L515.7 160.4L515.7 162.2L377.7 162.2L377.7 100.9Z" fill="#ff6e00"/>
<path d="M379.6 117.5L382.8 120.9L388.1 125.8L391.5 128.6L394.9 131.2L398.4 133.5L401.9 135.7L408.8 139.5L415.6 142.8L422.6 145.7L429.4 148.2L436.4 150.4L443.2 152.4L453.6 155.0L464.0 157.2L472.3 158.8L481.2 160.3L494.2 162.2L377.7 162.2L377.7 115.3Z" fill="#ff5d00"/>
<path d="M379.3 131.2L384.6 135.6L388.1 138.1L393.6 141.6L398.4 144.2L401.9 146.0L407.3 148.4L412.2 150.4L416.3 151.9L422.6 153.9L432.9 156.9L439.8 158.5L446.7 160.0L458.4 162.2L377.7 162.2L377.7 129.8Z" fill="#ff4c00"/>
<path d="M378.9 145.0L384.5 148.4L388.0 150.4L391.5 152.1L398.4 155.0L405.3 157.5L409.5 158.8L415.6 160.5L422.5 162.2L377.7 162.2L377.7 144.2Z" fill="#ff3c00"/>
<path d="M378.0 158.8L381.1 160.1L386.6 162.2L377.7 162.2L377.7 158.6Z" fill="#ff2d00"/>
<path d="M510.5 24.6L515.7 28.9" fill="none" stroke="#fff" stroke-opacity="0.4" stroke-width="0.6"/>
<path d="M478.2 24.6L485.4 31.5L489.2 34.9L495.0 39.9L501.7 45.2L505.4 47.9L511.2 52.1L515.7 55.2" fill="none" stroke="#fff" stroke-opacity="0.4" stroke-width="0.6"/>
<path d="M446.0 24.6L450.2 29.7L453.6 33.6L457.0 37.4L461.3 41.8L468.5 48.7L472.3 52.1L477.8 56.6L485.2 62.4L490.0 65.9L495.1 69.3L500.5 72.8L505.4 75.7L515.7 81.5" fill="none" stroke="#fff" stroke-opacity="0.4" stroke-width="0.6"/>
<path d="M413.8 24.6L418.0 31.5L422.7 38.4L427.8 45.2L432.9 51.4L436.5 55.6L443.2 62.5L450.2 69.0L454.6 72.8L460.5 77.5L467.4 82.5L474.3 87.1L481.2 91.2L488.1 95.1L498.4 100.3L505.9 103.7L515.7 107.8" fill="none" stroke="#fff" stroke-opacity="0.4" stroke-width="0.6"/>
<path d="M381.5 24.6L385.9 34.9L388.1 39.6L390.9 45.2L394.6 52.1L396.7 55.6L401.9 63.6L405.3 68.4L408.7 72.8L414.6 79.6L417.8 83.1L421.2 86.5L424.9 90.0L429.4 93.8L433.2 96.8L437.8 100.3L442.8 103.7L446.7 106.2L450.2 108.3L457.1 112.1L460.7 114.0L467.4 117.3L477.8 121.7L484.5 124.4L491.6 126.9L501.9 130.2L515.7 134.1" fill="none" stroke="#fff" stroke-opacity="0.4" stroke-width="0.6"/>
<path d="M377.7 100.9L379.8 103.7L382.5 107.2L385.4 110.6L388.1 113.4L392.2 117.5L394.9 119.9L398.4 122.8L401.9 125.4L405.3 127.8L410.8 131.2L415.6 133.9L419.1 135.7L426.0 139.0L432.9 141.8L443.2 145.5L453.1 148.4L464.0 151.3L474.3 153.6L488.1 156.2L501.9 158.5L515.7 160.4" fill="none" stroke="#fff" stroke-opacity="0.4" stroke-width="0.6"/>
<rect x="383.3" y="34.2" width="4.2" height="4.6" fill="#fffff4"/>
<text x="385.4" y="37.8" font-size="3.6" text-anchor="middle" fill="#3a3340">-4</text>
<rect x="416.1" y="30.4" width="4.2" height="4.6" fill="#fffff4"/>
<text x="418.2" y="34.0" font-size="3.6" text-anchor="middle" fill="#3a3340">-6</text>
<rect x="450.0" y="27.3" width="4.2" height="4.6" fill="#fffff4"/>
<text x="452.1" y="30.9" font-size="3.6" text-anchor="middle" fill="#3a3340">-8</text>
<rect x="509.7" y="24.7" width="6.6" height="4.6" fill="#fffff4"/>
<text x="513.0" y="28.3" font-size="3.6" text-anchor="middle" fill="#3a3340">-12</text>
<rect x="493.2" y="40.0" width="6.6" height="4.6" fill="#fffff4"/>
<text x="496.5" y="43.6" font-size="3.6" text-anchor="middle" fill="#3a3340">-10</text>
<rect x="477.0" y="54.7" width="4.2" height="4.6" fill="#fffff4"/>
<text x="479.1" y="58.3" font-size="3.6" text-anchor="middle" fill="#3a3340">-8</text>
<rect x="508.7" y="76.6" width="4.2" height="4.6" fill="#fffff4"/>
<text x="510.8" y="80.2" font-size="3.6" text-anchor="middle" fill="#3a3340">-8</text>
<rect x="441.2" y="58.9" width="4.2" height="4.6" fill="#fffff4"/>
<text x="443.3" y="62.5" font-size="3.6" text-anchor="middle" fill="#3a3340">-6</text>
<rect x="472.0" y="84.0" width="4.2" height="4.6" fill="#fffff4"/>
<text x="474.1" y="87.6" font-size="3.6" text-anchor="middle" fill="#3a3340">-6</text>
<rect x="504.8" y="103.6" width="4.2" height="4.6" fill="#fffff4"/>
<text x="506.9" y="107.2" font-size="3.6" text-anchor="middle" fill="#3a3340">-6</text>
<rect x="403.8" y="67.0" width="4.2" height="4.6" fill="#fffff4"/>
<text x="405.9" y="70.6" font-size="3.6" text-anchor="middle" fill="#3a3340">-4</text>
<rect x="431.5" y="94.0" width="4.2" height="4.6" fill="#fffff4"/>
<text x="433.6" y="97.6" font-size="3.6" text-anchor="middle" fill="#3a3340">-4</text>
<rect x="464.7" y="113.3" width="4.2" height="4.6" fill="#fffff4"/>
<text x="466.8" y="116.9" font-size="3.6" text-anchor="middle" fill="#3a3340">-4</text>
<rect x="500.2" y="127.9" width="4.2" height="4.6" fill="#fffff4"/>
<text x="502.3" y="131.5" font-size="3.6" text-anchor="middle" fill="#3a3340">-4</text>
<rect x="388.3" y="115.2" width="4.2" height="4.6" fill="#fffff4"/>
<text x="390.4" y="118.8" font-size="3.6" text-anchor="middle" fill="#3a3340">-2</text>
<rect x="421.5" y="135.6" width="4.2" height="4.6" fill="#fffff4"/>
<text x="423.6" y="139.2" font-size="3.6" text-anchor="middle" fill="#3a3340">-2</text>
<rect x="457.8" y="148.4" width="4.2" height="4.6" fill="#fffff4"/>
<text x="459.9" y="152.0" font-size="3.6" text-anchor="middle" fill="#3a3340">-2</text>
<rect x="496.3" y="155.3" width="4.2" height="4.6" fill="#fffff4"/>
<text x="498.4" y="158.9" font-size="3.6" text-anchor="middle" fill="#3a3340">-2</text>
<text x="386.3" y="169.6" font-size="4" text-anchor="middle" fill="#333">40</text>
<text x="407.9" y="169.6" font-size="4" text-anchor="middle" fill="#333">50</text>
<text x="429.4" y="169.6" font-size="4" text-anchor="middle" fill="#333">60</text>
<text x="451.0" y="169.6" font-size="4" text-anchor="middle" fill="#333">70</text>
<text x="472.6" y="169.6" font-size="4" text-anchor="middle" fill="#333">80</text>
<text x="494.1" y="169.6" font-size="4" text-anchor="middle" fill="#333">90</text>
<text x="515.7" y="169.6" font-size="4" text-anchor="middle" fill="#333">100</text>
<text x="374.9" y="26.0" font-size="4" text-anchor="end" fill="#333">-55</text>
<text x="374.9" y="46.2" font-size="4" text-anchor="end" fill="#333">-60</text>
<text x="374.9" y="66.5" font-size="4" text-anchor="end" fill="#333">-65</text>
<text x="374.9" y="86.7" font-size="4" text-anchor="end" fill="#333">-70</text>
<text x="374.9" y="106.9" font-size="4" text-anchor="end" fill="#333">-75</text>
<text x="374.9" y="127.2" font-size="4" text-anchor="end" fill="#333">-80</text>
<text x="374.9" y="147.4" font-size="4" text-anchor="end" fill="#333">-85</text>
<text x="446.3" y="179.2" font-size="4.5" text-anchor="middle" textLength="30" lengthAdjust="spacingAndGlyphs" fill="#222">Cluster size, %</text>
<text transform="translate(364.0 92.2) rotate(-90)" font-size="4.5" text-anchor="middle" textLength="49.4" lengthAdjust="spacingAndGlyphs" fill="#222">Synaptic potential, mV</text>
</g>
<g>
<rect x="27.1" y="206.4" width="138.1" height="138.4" fill="#51008c"/>
<path d="M30.6 206.4L165.2 206.4L165.2 344.8L27.1 344.8L27.1 208.9L28.5 206.4Z" fill="#45008c"/>
<path d="M40.9 209.6L43.6 206.4L165.2 206.4L165.2 344.8L27.1 344.8L27.1 231.2L30.6 225.0L34.0 219.3L37.5 214.2L40.7 209.9Z" fill="#38008c"/>
<path d="M58.2 207.5L59.5 206.4L165.2 206.4L165.2 344.8L27.1 344.8L27.1 248.6L30.6 242.4L34.0 236.6L37.5 231.2L40.9 226.3L44.4 221.8L47.8 217.7L51.3 214.0L55.5 209.9Z" fill="#2b008b"/>
<path d="M72.0 209.2L76.3 206.4L165.2 206.4L165.2 344.8L27.1 344.8L27.1 263.5L31.9 254.8L37.5 245.8L40.9 240.7L43.2 237.5L47.8 231.6L51.6 227.2L54.7 223.8L58.3 220.2L61.6 217.2L65.1 214.3L71.0 209.9Z" fill="#1f008a"/>
<path d="M89.2 208.8L94.2 206.4L165.2 206.4L165.2 344.8L27.1 344.8L27.1 276.7L30.6 270.4L34.0 264.4L37.5 258.8L40.9 253.6L44.4 248.6L47.8 244.0L51.3 239.8L54.7 235.8L58.2 232.1L61.6 228.6L65.1 225.5L68.5 222.5L72.0 219.8L75.4 217.2L78.9 214.9L82.3 212.7L87.3 209.9Z" fill="#16008b"/>
<path d="M106.5 209.1L113.4 206.4L165.2 206.4L165.2 344.8L27.1 344.8L27.1 288.7L32.4 279.1L37.5 270.6L40.9 265.3L44.4 260.2L47.8 255.5L51.3 251.0L56.8 244.5L61.6 239.3L65.1 235.9L68.5 232.7L72.0 229.7L75.4 226.9L78.9 224.4L82.3 222.0L85.8 219.7L92.7 215.7L99.6 212.1L104.7 209.9Z" fill="#100090"/>
<path d="M123.8 209.7L130.7 207.5L134.4 206.4L165.2 206.4L165.2 344.8L27.1 344.8L27.1 299.8L32.8 289.4L36.9 282.5L40.9 276.1L46.0 268.7L51.1 261.8L53.8 258.3L58.2 253.1L61.6 249.2L65.1 245.6L69.9 241.0L75.4 236.1L78.9 233.4L82.5 230.6L89.2 226.0L96.2 221.9L99.6 220.0L103.1 218.2L110.0 215.0L116.9 212.2L123.2 209.9Z" fill="#0c0098"/>
<path d="M144.5 209.5L151.4 207.8L157.6 206.4L165.2 206.4L165.2 344.8L27.1 344.8L27.1 310.1L30.6 303.7L34.7 296.4L38.9 289.4L43.3 282.5L47.8 276.0L51.3 271.3L54.7 266.8L58.9 261.8L65.1 254.9L68.5 251.4L72.0 248.0L75.9 244.5L80.0 241.0L85.8 236.5L92.7 231.8L96.2 229.6L100.3 227.2L106.5 223.8L110.0 222.1L116.9 218.9L123.8 216.2L130.7 213.7L137.6 211.5L143.3 209.9Z" fill="#0700a1"/>
<path d="M151.4 213.2L158.3 211.4L165.2 209.9L165.2 344.8L27.1 344.8L27.1 319.8L32.3 310.2L37.5 301.4L42.8 292.9L47.4 286.0L52.4 279.1L57.8 272.1L61.6 267.6L66.9 261.8L72.0 256.5L75.4 253.3L82.3 247.2L89.2 241.8L92.7 239.4L96.2 237.0L103.1 232.8L110.0 228.9L113.4 227.2L116.9 225.5L123.8 222.5L130.7 219.8L137.6 217.3L144.5 215.1L151.0 213.3Z" fill="#0400ad"/>
<path d="M158.3 216.6L165.2 214.8L165.2 344.8L27.1 344.8L27.1 329.0L34.0 316.4L39.7 306.7L44.4 299.5L48.8 292.9L54.7 284.8L59.2 279.1L65.1 272.1L68.5 268.3L75.0 261.8L78.9 258.0L82.5 254.8L86.7 251.4L92.7 246.7L99.6 241.9L103.1 239.7L106.6 237.5L112.8 234.1L116.9 231.9L123.8 228.7L130.7 225.7L134.1 224.3L144.5 220.7L151.4 218.5L157.5 216.8Z" fill="#0300be"/>
<path d="M165.2 219.7L165.2 344.8L27.1 344.8L27.1 337.7L32.7 327.5L37.5 319.2L43.0 310.2L47.8 302.8L52.4 296.4L57.5 289.4L61.6 284.3L65.1 280.2L68.5 276.3L72.4 272.1L78.9 265.7L82.3 262.5L85.8 259.4L91.4 254.8L96.2 251.2L99.6 248.8L103.1 246.4L110.0 242.1L118.2 237.5L127.2 233.1L132.8 230.6L137.6 228.7L144.5 226.1L151.4 223.7L158.3 221.6L163.2 220.2Z" fill="#0100cf"/>
<path d="M158.3 226.6L165.2 224.5L165.2 344.8L27.8 344.8L34.0 333.4L40.9 321.8L47.8 311.0L54.7 301.1L61.6 292.1L68.5 283.9L75.4 276.5L78.9 273.0L83.5 268.7L87.3 265.2L91.4 261.8L96.2 258.0L99.6 255.5L106.5 250.7L110.8 247.9L116.9 244.3L123.8 240.6L127.2 238.9L134.1 235.7L144.5 231.4L151.4 228.9L156.5 227.2Z" fill="#0001df"/>
<path d="M161.7 230.3L165.2 229.2L165.2 344.8L32.1 344.8L37.5 335.5L44.4 324.0L51.3 313.8L54.7 308.9L58.9 303.3L65.1 295.4L68.5 291.3L73.3 286.0L78.9 280.1L82.3 276.7L89.2 270.4L96.2 264.6L99.6 262.0L104.6 258.3L109.7 254.8L113.4 252.4L121.0 247.9L130.7 242.8L141.0 238.1L151.4 233.9L160.8 230.6Z" fill="#0003f0"/>
<path d="M165.2 233.9L165.2 344.8L36.5 344.8L40.9 337.4L44.4 331.8L51.3 321.3L58.2 311.6L64.6 303.3L72.0 294.5L78.9 287.0L85.8 280.2L92.7 274.0L99.6 268.3L103.6 265.2L110.0 260.7L119.1 254.8L127.2 250.1L134.1 246.6L144.5 241.8L154.8 237.6L164.7 234.1Z" fill="#0007fd"/>
<path d="M161.7 239.7L165.2 238.5L165.2 344.8L40.9 344.8L47.4 334.4L52.0 327.5L58.2 318.7L65.1 309.7L72.0 301.4L78.9 293.8L85.8 286.8L92.7 280.4L99.6 274.5L107.1 268.7L112.0 265.2L116.9 261.9L123.8 257.6L130.7 253.7L135.1 251.4L141.0 248.4L149.8 244.5L158.4 241.0Z" fill="#0420ea"/>
<path d="M161.7 244.4L165.2 243.1L165.2 344.8L45.3 344.8L51.3 335.6L58.2 325.7L64.6 317.1L70.2 310.2L75.4 304.1L82.3 296.6L89.2 289.8L96.2 283.5L103.1 277.7L110.3 272.1L116.9 267.5L123.8 263.1L127.2 261.0L134.1 257.1L144.5 251.8L153.0 247.9L161.5 244.5Z" fill="#0a41c0"/>
<path d="M165.2 247.6L165.2 344.8L49.7 344.8L54.7 337.3L61.6 327.7L68.5 318.8L75.4 310.6L82.3 303.0L88.8 296.4L92.7 292.6L100.2 286.0L106.5 280.8L113.4 275.5L120.3 270.7L127.2 266.3L130.7 264.2L137.6 260.3L147.9 255.0L155.9 251.4L164.3 247.9Z" fill="#126782"/>
<path d="M161.7 253.4L165.2 252.0L165.2 344.8L54.1 344.8L59.0 337.9L65.1 329.6L72.0 320.9L78.2 313.7L82.3 309.1L89.2 302.0L96.2 295.4L102.9 289.4L110.0 283.7L116.9 278.5L123.8 273.7L130.7 269.3L137.6 265.3L144.5 261.5L151.4 258.1L158.5 254.8Z" fill="#0e894b"/>
<path d="M161.7 257.9L165.2 256.4L165.2 344.8L58.6 344.8L63.6 337.9L68.9 331.0L75.4 323.0L82.3 315.1L87.0 310.2L92.7 304.4L99.6 297.9L105.4 292.9L110.0 289.1L116.9 283.8L123.8 278.9L130.7 274.4L137.6 270.2L144.5 266.3L151.4 262.7L160.8 258.3Z" fill="#0fa121"/>
<path d="M165.2 260.7L165.2 344.8L63.1 344.8L68.5 337.6L73.8 331.0L78.9 324.9L85.8 317.2L92.6 310.2L96.2 306.7L103.1 300.4L110.0 294.5L116.4 289.4L121.0 286.0L127.2 281.6L134.1 277.1L141.0 273.0L147.9 269.1L154.8 265.6L162.9 261.8Z" fill="#22b508"/>
<path d="M165.2 265.0L165.2 344.8L67.6 344.8L73.0 337.9L78.9 330.7L84.8 324.0L89.2 319.3L96.2 312.3L102.0 306.7L106.5 302.7L113.4 296.9L118.6 292.9L123.8 289.0L130.7 284.2L137.6 279.8L144.5 275.7L151.4 271.8L158.3 268.3L164.7 265.2Z" fill="#43c500"/>
<path d="M161.7 270.9L165.2 269.2L165.2 344.8L72.1 344.8L77.7 337.9L82.3 332.4L86.7 327.5L92.7 321.2L96.7 317.1L103.1 311.1L107.9 306.7L113.4 302.1L116.9 299.3L123.8 294.0L130.1 289.4L135.3 286.0L141.0 282.3L147.9 278.2L154.8 274.4L159.3 272.1Z" fill="#69d200"/>
<path d="M161.7 275.2L165.2 273.4L165.2 344.8L76.6 344.8L82.3 338.0L85.8 334.0L91.8 327.5L96.2 323.0L102.2 317.1L106.5 313.1L110.0 310.1L116.9 304.3L122.5 299.8L127.2 296.3L132.0 292.9L137.6 289.1L142.5 286.0L148.3 282.5L154.8 278.8L160.9 275.6Z" fill="#8edd00"/>
<path d="M165.2 277.6L165.2 344.8L81.2 344.8L89.2 335.6L93.6 331.0L99.6 324.8L104.0 320.6L110.0 315.1L115.6 310.2L119.9 306.7L124.3 303.3L130.7 298.5L141.0 291.4L151.4 285.1L158.3 281.2L162.3 279.1Z" fill="#b1e700"/>
<path d="M165.2 281.7L165.2 344.8L85.7 344.8L89.2 340.8L95.2 334.4L103.1 326.5L109.4 320.6L113.3 317.1L121.5 310.2L130.7 303.1L135.3 299.8L141.0 295.9L151.4 289.4L158.3 285.4L163.6 282.5Z" fill="#d2f100"/>
<path d="M165.2 285.7L165.2 344.8L90.3 344.8L96.2 338.5L99.6 334.9L106.5 328.2L114.8 320.6L123.8 313.1L127.4 310.2L134.1 305.2L144.5 298.0L154.8 291.6L164.8 286.0Z" fill="#e9f700"/>
<path d="M161.7 291.7L165.2 289.8L165.2 344.8L94.9 344.8L103.1 336.4L110.0 329.7L116.9 323.5L123.8 317.7L127.2 314.9L134.1 309.6L143.1 303.3L151.4 297.9L159.6 292.9Z" fill="#f9f600"/>
<path d="M161.7 295.7L165.2 293.8L165.2 344.8L99.6 344.8L106.5 337.8L113.4 331.3L120.3 325.1L127.2 319.4L134.6 313.7L144.3 306.7L151.4 302.0L160.7 296.4Z" fill="#ffeb00"/>
<path d="M161.7 299.7L165.2 297.7L165.2 344.8L104.2 344.8L110.0 339.2L116.9 332.7L123.8 326.7L131.3 320.6L137.6 315.8L145.4 310.2L154.8 303.9L161.6 299.8Z" fill="#ffd900"/>
<path d="M165.2 301.6L165.2 344.8L108.9 344.8L113.4 340.5L120.3 334.2L127.2 328.2L134.1 322.7L141.0 317.5L147.9 312.6L154.8 308.0L162.4 303.3Z" fill="#ffc600"/>
<path d="M165.2 305.5L165.2 344.8L113.6 344.8L120.3 338.6L125.1 334.4L130.7 329.7L137.6 324.3L144.5 319.1L151.4 314.3L157.6 310.2L163.1 306.7Z" fill="#ffb200"/>
<path d="M165.2 309.3L165.2 344.8L118.3 344.8L123.8 339.9L130.2 334.4L134.4 331.0L141.0 325.8L151.4 318.3L158.3 313.7L163.8 310.2Z" fill="#ffa100"/>
<path d="M165.2 313.1L165.2 344.8L123.1 344.8L127.2 341.1L134.1 335.3L144.2 327.5L148.9 324.0L154.8 319.9L164.3 313.7Z" fill="#ff8f00"/>
<path d="M165.2 316.9L165.2 344.8L127.8 344.8L136.1 337.9L144.9 331.0L154.8 323.8L164.8 317.1Z" fill="#ff7e00"/>
<path d="M161.7 322.9L165.2 320.6L165.2 344.8L132.6 344.8L137.6 340.7L145.5 334.4L151.4 330.1L160.0 324.0Z" fill="#ff6d00"/>
<path d="M161.7 326.6L165.2 324.3L165.2 344.8L137.4 344.8L147.9 336.5L154.8 331.4L160.5 327.5Z" fill="#ff5c00"/>
<path d="M161.7 330.3L165.2 328.0L165.2 344.8L142.3 344.8L151.4 337.7L160.9 331.0Z" fill="#ff4c00"/>
<path d="M161.7 334.0L165.2 331.7L165.2 344.8L147.1 344.8L154.8 339.0L161.2 334.4Z" fill="#ff3e00"/>
<path d="M161.7 337.7L165.2 335.3L165.2 344.8L152.0 344.8L161.5 337.9Z" fill="#fe3100"/>
<path d="M161.7 341.3L165.2 338.9L165.2 344.8L156.9 344.8L161.7 341.3Z" fill="#fb2600"/>
<path d="M165.2 342.4L165.2 344.8L161.9 344.8Z" fill="#f81c00"/>
<path d="M27.1 248.6L30.6 242.4L34.0 236.6L37.9 230.6L40.9 226.3L42.9 223.7L47.8 217.7L51.3 214.0L54.7 210.6L59.5 206.4" fill="none" stroke="#fff" stroke-opacity="0.4" stroke-width="0.6"/>
<path d="M27.1 319.8L34.0 307.3L37.5 301.4L40.9 295.8L44.4 290.5L47.8 285.4L51.3 280.6L54.7 276.0L58.2 271.7L61.6 267.6L65.1 263.7L68.5 260.0L72.0 256.5L77.5 251.4L82.3 247.2L85.8 244.5L92.7 239.4L96.2 237.0L103.1 232.8L110.0 228.9L116.9 225.5L120.3 224.0L123.8 222.5L130.7 219.8L141.0 216.2L151.4 213.2L158.3 211.4L165.2 209.9" fill="none" stroke="#fff" stroke-opacity="0.4" stroke-width="0.6"/>
<path d="M40.9 344.8L47.8 333.7L54.7 323.5L61.6 314.1L67.5 306.7L72.0 301.4L75.4 297.5L82.3 290.2L89.2 283.5L96.2 277.4L103.1 271.7L110.0 266.6L117.1 261.8L122.7 258.3L127.2 255.6L135.1 251.4L144.5 246.8L154.8 242.4L165.2 238.5" fill="none" stroke="#fff" stroke-opacity="0.4" stroke-width="0.6"/>
<path d="M67.6 344.8L73.0 337.9L78.9 330.7L84.8 324.0L89.2 319.3L96.2 312.3L102.0 306.7L106.5 302.7L113.4 296.9L118.6 292.9L123.8 289.0L130.7 284.2L137.6 279.8L144.5 275.7L151.4 271.8L158.3 268.3L165.2 265.0" fill="none" stroke="#fff" stroke-opacity="0.4" stroke-width="0.6"/>
<path d="M94.9 344.8L103.1 336.4L110.0 329.7L116.9 323.5L123.8 317.7L127.2 314.9L134.1 309.6L144.5 302.3L154.8 295.7L165.2 289.8" fill="none" stroke="#fff" stroke-opacity="0.4" stroke-width="0.6"/>
<path d="M123.1 344.8L127.2 341.1L134.1 335.3L144.2 327.5L148.9 324.0L154.8 319.9L165.2 313.1" fill="none" stroke="#fff" stroke-opacity="0.4" stroke-width="0.6"/>
<path d="M152.0 344.8L158.3 340.1L165.2 335.3" fill="none" stroke="#fff" stroke-opacity="0.4" stroke-width="0.6"/>
<rect x="54.1" y="209.3" width="6.6" height="4.6" fill="#fffff4"/>
<text x="57.4" y="212.9" font-size="3.6" text-anchor="middle" fill="#3a3340">6.0</text>
<rect x="29.0" y="238.2" width="6.6" height="4.6" fill="#fffff4"/>
<text x="32.3" y="241.8" font-size="3.6" text-anchor="middle" fill="#3a3340">6.0</text>
<rect x="147.8" y="210.4" width="6.6" height="4.6" fill="#fffff4"/>
<text x="151.1" y="214.0" font-size="3.6" text-anchor="middle" fill="#3a3340">6.5</text>
<rect x="111.2" y="222.8" width="6.6" height="4.6" fill="#fffff4"/>
<text x="114.5" y="226.4" font-size="3.6" text-anchor="middle" fill="#3a3340">6.5</text>
<rect x="78.4" y="243.2" width="6.6" height="4.6" fill="#fffff4"/>
<text x="81.7" y="246.8" font-size="3.6" text-anchor="middle" fill="#3a3340">6.5</text>
<rect x="52.2" y="271.7" width="6.6" height="4.6" fill="#fffff4"/>
<text x="55.5" y="275.3" font-size="3.6" text-anchor="middle" fill="#3a3340">6.5</text>
<rect x="31.0" y="303.8" width="6.6" height="4.6" fill="#fffff4"/>
<text x="34.3" y="307.4" font-size="3.6" text-anchor="middle" fill="#3a3340">6.5</text>
<rect x="139.3" y="245.9" width="6.6" height="4.6" fill="#fffff4"/>
<text x="142.6" y="249.5" font-size="3.6" text-anchor="middle" fill="#3a3340">7.0</text>
<rect x="106.2" y="266.3" width="6.6" height="4.6" fill="#fffff4"/>
<text x="109.5" y="269.9" font-size="3.6" text-anchor="middle" fill="#3a3340">7.0</text>
<rect x="75.3" y="289.1" width="6.6" height="4.6" fill="#fffff4"/>
<text x="78.6" y="292.7" font-size="3.6" text-anchor="middle" fill="#3a3340">7.0</text>
<rect x="53.0" y="321.1" width="6.6" height="4.6" fill="#fffff4"/>
<text x="56.3" y="324.7" font-size="3.6" text-anchor="middle" fill="#3a3340">7.0</text>
<rect x="140.5" y="276.0" width="6.6" height="4.6" fill="#fffff4"/>
<text x="143.8" y="279.6" font-size="3.6" text-anchor="middle" fill="#3a3340">7.5</text>
<rect x="107.3" y="296.0" width="6.6" height="4.6" fill="#fffff4"/>
<text x="110.6" y="299.6" font-size="3.6" text-anchor="middle" fill="#3a3340">7.5</text>
<rect x="79.6" y="323.0" width="6.6" height="4.6" fill="#fffff4"/>
<text x="82.9" y="326.6" font-size="3.6" text-anchor="middle" fill="#3a3340">7.5</text>
<rect x="141.3" y="300.7" width="6.6" height="4.6" fill="#fffff4"/>
<text x="144.6" y="304.3" font-size="3.6" text-anchor="middle" fill="#3a3340">8.0</text>
<rect x="110.4" y="325.0" width="6.6" height="4.6" fill="#fffff4"/>
<text x="113.7" y="328.6" font-size="3.6" text-anchor="middle" fill="#3a3340">8.0</text>
<rect x="156.3" y="313.4" width="6.6" height="4.6" fill="#fffff4"/>
<text x="159.6" y="317.0" font-size="3.6" text-anchor="middle" fill="#3a3340">8.5</text>
<rect x="126.2" y="337.7" width="6.6" height="4.6" fill="#fffff4"/>
<text x="129.5" y="341.3" font-size="3.6" text-anchor="middle" fill="#3a3340">8.5</text>
<rect x="155.5" y="336.5" width="6.6" height="4.6" fill="#fffff4"/>
<text x="158.8" y="340.1" font-size="3.6" text-anchor="middle" fill="#3a3340">9.0</text>
<text x="35.7" y="351.1" font-size="4" text-anchor="middle" fill="#333">40</text>
<text x="57.3" y="351.1" font-size="4" text-anchor="middle" fill="#333">50</text>
<text x="78.9" y="351.1" font-size="4" text-anchor="middle" fill="#333">60</text>
<text x="100.5" y="351.1" font-size="4" text-anchor="middle" fill="#333">70</text>
<text x="122.0" y="351.1" font-size="4" text-anchor="middle" fill="#333">80</text>
<text x="143.6" y="351.1" font-size="4" text-anchor="middle" fill="#333">90</text>
<text x="165.2" y="351.1" font-size="4" text-anchor="middle" fill="#333">100</text>
<text x="24.3" y="207.8" font-size="4" text-anchor="end" fill="#333">-55</text>
<text x="24.3" y="228.2" font-size="4" text-anchor="end" fill="#333">-60</text>
<text x="24.3" y="248.5" font-size="4" text-anchor="end" fill="#333">-65</text>
<text x="24.3" y="268.9" font-size="4" text-anchor="end" fill="#333">-70</text>
<text x="24.3" y="289.2" font-size="4" text-anchor="end" fill="#333">-75</text>
<text x="24.3" y="309.6" font-size="4" text-anchor="end" fill="#333">-80</text>
<text x="24.3" y="329.9" font-size="4" text-anchor="end" fill="#333">-85</text>
<text x="95.5" y="360.6" font-size="4.5" text-anchor="middle" textLength="30" lengthAdjust="spacingAndGlyphs" fill="#222">Cluster size, %</text>
<text transform="translate(12.7 273.4) rotate(-90)" font-size="4.5" text-anchor="middle" textLength="49.0" lengthAdjust="spacingAndGlyphs" fill="#222">Synaptic potential, mV</text>
</g>
<g>
<rect x="203.2" y="205.9" width="138.6" height="138.2" fill="#59008c"/>
<path d="M206.7 207.1L207.3 205.9L341.8 205.9L341.8 344.1L203.2 344.1L203.2 214.5L205.6 209.4Z" fill="#51008c"/>
<path d="M220.5 207.0L221.4 205.9L341.8 205.9L341.8 344.1L203.2 344.1L203.2 238.6L206.7 230.9L210.5 223.2L214.4 216.3L217.1 212.1L218.9 209.4Z" fill="#45008c"/>
<path d="M234.4 207.5L235.9 205.9L341.8 205.9L341.8 344.1L203.2 344.1L203.2 258.3L206.7 250.4L210.1 243.2L213.6 236.5L217.1 230.5L220.5 225.0L224.1 219.7L227.5 215.4L232.6 209.4Z" fill="#38008c"/>
<path d="M248.2 208.2L251.1 205.9L341.8 205.9L341.8 344.1L203.2 344.1L203.2 275.3L207.9 264.6L210.1 259.9L213.6 253.0L218.7 243.9L224.0 235.4L227.5 230.5L230.4 226.6L234.4 221.7L237.8 217.9L241.3 214.4L246.8 209.4Z" fill="#2b008b"/>
<path d="M262.1 209.0L267.0 205.9L341.8 205.9L341.8 344.1L203.2 344.1L203.2 290.5L205.4 285.4L208.5 278.5L211.8 271.5L217.1 261.2L220.5 255.2L224.0 249.5L227.5 244.3L230.9 239.4L234.4 234.9L237.8 230.7L241.3 226.8L244.9 223.2L248.2 219.9L252.4 216.3L256.8 212.8L261.6 209.4Z" fill="#1f008a"/>
<path d="M279.4 208.0L283.6 205.9L341.8 205.9L341.8 344.1L203.2 344.1L203.2 304.4L206.7 296.3L210.1 288.7L213.6 281.5L218.8 271.5L224.0 262.6L227.5 257.1L230.9 251.9L234.4 247.1L237.9 242.7L241.3 238.5L244.8 234.7L248.2 231.1L251.7 227.7L255.2 224.6L258.6 221.7L262.1 219.0L269.0 214.1L272.5 212.0L277.0 209.4Z" fill="#16008b"/>
<path d="M293.3 209.2L301.0 205.9L341.8 205.9L341.8 344.1L203.2 344.1L203.2 317.2L206.7 309.1L210.1 301.4L213.6 294.1L217.1 287.3L220.5 280.8L224.0 274.7L227.5 269.0L230.9 263.7L234.4 258.7L237.9 254.0L241.3 249.6L244.8 245.5L248.2 241.6L251.7 238.0L255.2 234.7L258.6 231.5L262.1 228.6L265.6 225.9L269.2 223.2L276.0 218.6L282.9 214.5L286.4 212.6L293.0 209.4Z" fill="#100090"/>
<path d="M310.6 209.1L319.6 205.9L341.8 205.9L341.8 344.1L203.2 344.1L203.2 329.3L206.7 321.1L210.1 313.4L213.6 306.0L217.1 299.0L220.5 292.4L224.5 285.4L228.6 278.5L233.1 271.5L237.8 264.7L241.3 260.1L244.8 255.8L248.2 251.7L251.7 247.9L255.6 243.9L258.6 241.0L263.1 237.0L267.2 233.5L272.5 229.5L276.5 226.6L281.9 223.2L289.8 218.5L294.2 216.3L300.2 213.4L303.7 211.9L309.9 209.4Z" fill="#0c0098"/>
<path d="M327.9 209.3L339.3 205.9L341.8 205.9L341.8 344.1L203.2 344.1L203.2 340.6L209.1 326.8L213.6 317.2L217.1 310.1L220.5 303.4L224.7 295.7L228.8 288.8L233.1 281.9L237.8 275.0L240.3 271.5L244.8 265.7L248.2 261.4L254.6 254.3L258.6 250.1L262.1 246.8L265.6 243.6L269.3 240.5L273.6 237.0L278.2 233.5L282.9 230.3L286.4 228.1L289.8 226.0L296.8 222.2L301.6 219.7L307.1 217.2L314.1 214.2L317.5 212.9L327.7 209.4Z" fill="#0700a1"/>
<path d="M334.9 212.8L341.8 210.7L341.8 344.1L206.3 344.1L212.4 330.3L215.7 323.4L219.2 316.5L224.7 306.1L230.9 295.5L234.4 290.0L237.8 284.8L241.3 279.8L244.8 275.2L248.2 270.7L251.7 266.6L255.2 262.6L259.8 257.7L263.2 254.3L266.9 250.8L270.8 247.4L276.0 243.1L279.5 240.5L284.3 237.0L289.5 233.5L293.3 231.2L296.8 229.2L303.7 225.5L308.4 223.2L314.1 220.6L324.5 216.4L334.8 212.8Z" fill="#0400ad"/>
<path d="M341.8 216.1L341.8 344.1L210.8 344.1L217.1 330.8L220.5 323.9L224.0 317.3L227.5 311.1L230.9 305.2L236.8 295.7L241.3 289.1L244.8 284.3L248.2 279.7L251.7 275.4L258.6 267.4L265.6 260.3L272.5 253.8L276.0 250.8L282.9 245.4L289.9 240.5L295.2 237.0L300.2 234.0L303.7 232.1L310.6 228.5L314.5 226.6L321.0 223.7L331.4 219.6L341.1 216.3Z" fill="#0300be"/>
<path d="M338.3 222.6L341.8 221.4L341.8 344.1L215.3 344.1L220.5 333.5L224.0 326.8L227.5 320.5L233.9 309.6L238.3 302.6L244.8 293.1L251.7 283.9L258.6 275.7L265.7 268.1L272.5 261.5L276.0 258.4L280.9 254.3L285.3 250.8L289.8 247.5L296.8 242.8L303.7 238.6L310.6 234.7L314.1 232.9L320.0 230.1L324.5 228.1L331.4 225.2L336.7 223.2Z" fill="#0100cf"/>
<path d="M341.8 226.6L341.8 344.1L219.8 344.1L224.0 336.0L227.1 330.3L233.0 319.9L237.8 312.0L244.8 301.7L248.2 296.8L251.7 292.2L258.6 283.7L265.6 276.0L272.5 269.0L279.4 262.7L286.4 257.0L289.9 254.3L294.7 250.8L299.8 247.4L303.7 244.9L311.4 240.5L321.0 235.4L331.4 230.7L341.7 226.6Z" fill="#0001df"/>
<path d="M338.3 233.2L341.8 231.8L341.8 344.1L224.4 344.1L230.9 332.1L236.1 323.4L241.3 315.1L248.2 305.0L255.2 295.8L260.9 288.8L267.1 281.9L273.9 275.0L281.3 268.1L285.4 264.6L289.7 261.2L296.8 255.9L303.7 251.2L310.6 246.9L315.9 243.9L321.0 241.2L327.9 237.8L337.5 233.5Z" fill="#0003f0"/>
<path d="M341.8 236.9L341.8 344.1L229.0 344.1L234.4 334.5L239.1 326.8L244.8 318.0L251.7 308.1L258.6 299.2L264.4 292.3L270.7 285.4L277.6 278.5L285.2 271.5L293.3 264.9L300.2 259.7L307.1 255.0L314.1 250.8L320.0 247.4L324.5 245.0L333.7 240.5L341.6 237.0Z" fill="#0007fd"/>
<path d="M338.3 243.5L341.8 242.0L341.8 344.1L233.5 344.1L239.7 333.7L244.8 325.8L248.8 319.9L255.2 311.1L261.8 302.6L267.7 295.7L272.5 290.5L279.4 283.5L286.4 277.1L293.3 271.3L300.2 265.9L307.1 261.0L314.1 256.5L321.0 252.4L327.9 248.6L337.5 243.9Z" fill="#0420ea"/>
<path d="M341.8 247.0L341.8 344.1L238.1 344.1L242.4 337.2L248.2 328.2L254.1 319.9L259.3 313.0L265.6 305.3L270.9 299.2L276.0 293.7L282.9 286.8L289.8 280.5L296.8 274.7L303.7 269.4L310.6 264.5L317.5 260.0L324.5 255.9L331.4 252.1L341.0 247.4Z" fill="#0a41c0"/>
<path d="M338.3 253.7L341.8 251.9L341.8 344.1L242.8 344.1L248.2 335.6L254.3 326.8L259.4 319.9L264.9 313.0L270.8 306.1L276.0 300.3L280.4 295.7L286.4 289.9L291.4 285.4L296.8 280.7L303.7 275.2L310.6 270.2L317.5 265.5L324.5 261.3L331.4 257.3L337.1 254.3Z" fill="#126782"/>
<path d="M341.8 256.9L341.8 344.1L247.4 344.1L251.7 337.7L256.9 330.3L262.1 323.4L267.6 316.5L273.5 309.6L279.4 303.1L283.3 299.2L289.8 292.9L296.8 286.7L302.6 281.9L307.1 278.4L314.1 273.3L321.0 268.7L327.6 264.6L333.6 261.2L340.1 257.7Z" fill="#0e894b"/>
<path d="M338.3 263.6L341.8 261.7L341.8 344.1L252.1 344.1L256.9 337.2L262.0 330.3L265.6 325.6L270.2 319.9L276.0 313.3L279.4 309.5L286.0 302.6L289.8 298.9L293.3 295.7L300.2 289.6L305.4 285.4L310.6 281.4L317.5 276.4L324.5 271.8L330.4 268.1L336.4 264.6Z" fill="#0fa121"/>
<path d="M341.8 266.5L341.8 344.1L256.7 344.1L261.7 337.2L265.6 332.2L269.8 326.8L275.6 319.9L279.4 315.7L285.2 309.6L293.3 301.6L299.8 295.7L303.7 292.4L308.1 288.8L314.1 284.2L321.0 279.3L327.5 275.0L333.0 271.5L339.0 268.1Z" fill="#22b508"/>
<path d="M341.8 271.3L341.8 344.1L261.4 344.1L265.6 338.6L269.3 333.7L275.0 326.8L279.4 321.8L284.3 316.5L289.8 310.8L298.4 302.6L307.1 295.0L314.1 289.5L319.7 285.4L324.7 281.9L331.4 277.5L341.3 271.5Z" fill="#43c500"/>
<path d="M338.3 278.1L341.8 276.0L341.8 344.1L266.2 344.1L274.4 333.7L279.4 327.8L282.9 323.9L289.9 316.5L293.4 313.0L300.2 306.5L308.6 299.2L317.5 292.1L322.0 288.8L327.9 284.7L337.7 278.5Z" fill="#69d200"/>
<path d="M341.8 280.7L341.8 344.1L270.9 344.1L276.0 337.8L279.4 333.7L286.4 325.9L289.8 322.2L295.6 316.5L303.7 308.8L310.9 302.6L315.1 299.2L321.0 294.6L327.9 289.6L331.4 287.3L339.8 281.9Z" fill="#8edd00"/>
<path d="M341.8 285.3L341.8 344.1L275.6 344.1L282.9 335.5L290.8 326.8L296.8 320.8L300.2 317.4L307.1 311.1L314.1 305.1L317.5 302.3L324.5 297.0L331.4 292.1L336.3 288.8L341.7 285.4Z" fill="#b1e700"/>
<path d="M338.3 292.1L341.8 289.9L341.8 344.1L280.4 344.1L286.4 337.2L293.3 329.7L300.2 322.8L307.1 316.3L314.1 310.2L321.0 304.6L328.2 299.2L338.1 292.3Z" fill="#d2f100"/>
<path d="M341.8 294.4L341.8 344.1L285.2 344.1L289.8 338.9L296.8 331.5L303.7 324.7L310.6 318.3L317.5 312.3L324.5 306.8L331.4 301.6L339.8 295.7Z" fill="#e9f700"/>
<path d="M341.8 298.9L341.8 344.1L290.0 344.1L296.4 337.2L300.2 333.3L307.1 326.5L314.1 320.2L321.0 314.4L327.9 308.9L334.9 303.7L341.4 299.2Z" fill="#f9f600"/>
<path d="M338.3 305.8L341.8 303.4L341.8 344.1L294.8 344.1L300.2 338.4L304.9 333.7L310.6 328.3L316.1 323.4L321.0 319.2L327.9 313.6L337.9 306.1Z" fill="#ffeb00"/>
<path d="M341.8 307.8L341.8 344.1L299.7 344.1L307.1 336.6L313.8 330.3L317.7 326.8L321.7 323.4L327.9 318.2L334.7 313.0L339.4 309.6Z" fill="#ffd900"/>
<path d="M341.8 312.2L341.8 344.1L304.6 344.1L311.6 337.2L321.0 328.6L327.3 323.4L331.4 320.0L340.7 313.0Z" fill="#ffc600"/>
<path d="M338.3 319.1L341.8 316.6L341.8 344.1L309.4 344.1L317.5 336.4L324.5 330.3L331.4 324.5L337.3 319.9Z" fill="#ffb200"/>
<path d="M341.8 320.9L341.8 344.1L314.4 344.1L321.0 337.9L325.8 333.7L331.4 329.0L338.5 323.4Z" fill="#ffa100"/>
<path d="M341.8 325.2L341.8 344.1L319.3 344.1L327.9 336.4L334.9 330.6L339.7 326.8Z" fill="#ff8f00"/>
<path d="M341.8 329.4L341.8 344.1L324.2 344.1L332.2 337.2L340.7 330.3Z" fill="#ff7e00"/>
<path d="M341.8 333.7L341.8 344.1L329.2 344.1L334.9 339.3L341.7 333.7Z" fill="#ff6d00"/>
<path d="M341.8 337.8L341.8 344.1L334.2 344.1L338.3 340.6Z" fill="#ff5c00"/>
<path d="M341.8 342.0L341.8 344.1L339.2 344.1Z" fill="#ff4c00"/>
<path d="M203.2 275.3L207.9 264.6L210.1 259.9L213.6 253.0L218.7 243.9L223.0 237.0L225.3 233.5L227.5 230.5L230.9 225.9L234.4 221.7L237.8 217.9L241.3 214.4L244.8 211.1L248.2 208.2L251.1 205.9" fill="none" stroke="#fff" stroke-opacity="0.4" stroke-width="0.6"/>
<path d="M206.3 344.1L212.4 330.3L215.7 323.4L219.2 316.5L222.8 309.6L226.7 302.6L232.9 292.3L237.4 285.4L239.8 281.9L244.8 275.2L247.6 271.5L251.7 266.6L255.2 262.6L258.6 258.9L262.1 255.4L265.6 252.1L270.8 247.4L275.0 243.9L279.4 240.5L286.4 235.6L293.3 231.2L296.8 229.2L301.5 226.6L307.1 223.8L310.6 222.1L317.5 219.1L327.9 215.1L334.9 212.8L341.8 210.7" fill="none" stroke="#fff" stroke-opacity="0.4" stroke-width="0.6"/>
<path d="M233.5 344.1L239.7 333.7L244.8 325.8L251.2 316.5L256.3 309.6L262.1 302.3L269.0 294.3L276.0 286.9L281.1 281.9L288.8 275.0L296.8 268.5L303.7 263.4L310.6 258.7L317.5 254.4L324.5 250.5L331.4 246.9L341.8 242.0" fill="none" stroke="#fff" stroke-opacity="0.4" stroke-width="0.6"/>
<path d="M261.4 344.1L265.6 338.6L269.3 333.7L275.0 326.8L279.4 321.8L284.3 316.5L289.8 310.8L298.4 302.6L307.1 295.0L314.1 289.5L319.7 285.4L324.7 281.9L331.4 277.5L341.8 271.3" fill="none" stroke="#fff" stroke-opacity="0.4" stroke-width="0.6"/>
<path d="M290.0 344.1L296.4 337.2L300.2 333.3L307.1 326.5L314.1 320.2L321.0 314.4L327.9 308.9L334.9 303.7L341.8 298.9" fill="none" stroke="#fff" stroke-opacity="0.4" stroke-width="0.6"/>
<path d="M319.3 344.1L324.5 339.4L331.1 333.7L335.3 330.3L341.8 325.2" fill="none" stroke="#fff" stroke-opacity="0.4" stroke-width="0.6"/>
<rect x="234.9" y="217.8" width="6.6" height="4.6" fill="#fffff4"/>
<text x="238.2" y="221.4" font-size="3.6" text-anchor="middle" fill="#3a3340">6.0</text>
<rect x="211.0" y="249.0" width="6.6" height="4.6" fill="#fffff4"/>
<text x="214.3" y="252.6" font-size="3.6" text-anchor="middle" fill="#3a3340">6.0</text>
<rect x="318.2" y="214.7" width="6.6" height="4.6" fill="#fffff4"/>
<text x="321.5" y="218.3" font-size="3.6" text-anchor="middle" fill="#3a3340">6.5</text>
<rect x="283.5" y="231.6" width="6.6" height="4.6" fill="#fffff4"/>
<text x="286.8" y="235.2" font-size="3.6" text-anchor="middle" fill="#3a3340">6.5</text>
<rect x="254.6" y="257.5" width="6.6" height="4.6" fill="#fffff4"/>
<text x="257.9" y="261.1" font-size="3.6" text-anchor="middle" fill="#3a3340">6.5</text>
<rect x="230.3" y="287.6" width="6.6" height="4.6" fill="#fffff4"/>
<text x="233.6" y="291.2" font-size="3.6" text-anchor="middle" fill="#3a3340">6.5</text>
<rect x="211.8" y="321.9" width="6.6" height="4.6" fill="#fffff4"/>
<text x="215.1" y="325.5" font-size="3.6" text-anchor="middle" fill="#3a3340">6.5</text>
<rect x="322.8" y="247.1" width="6.6" height="4.6" fill="#fffff4"/>
<text x="326.1" y="250.7" font-size="3.6" text-anchor="middle" fill="#3a3340">7.0</text>
<rect x="290.8" y="268.7" width="6.6" height="4.6" fill="#fffff4"/>
<text x="294.1" y="272.3" font-size="3.6" text-anchor="middle" fill="#3a3340">7.0</text>
<rect x="262.3" y="294.5" width="6.6" height="4.6" fill="#fffff4"/>
<text x="265.6" y="298.1" font-size="3.6" text-anchor="middle" fill="#3a3340">7.0</text>
<rect x="240.3" y="326.5" width="6.6" height="4.6" fill="#fffff4"/>
<text x="243.6" y="330.1" font-size="3.6" text-anchor="middle" fill="#3a3340">7.0</text>
<rect x="325.9" y="279.1" width="6.6" height="4.6" fill="#fffff4"/>
<text x="329.2" y="282.7" font-size="3.6" text-anchor="middle" fill="#3a3340">7.5</text>
<rect x="293.9" y="300.7" width="6.6" height="4.6" fill="#fffff4"/>
<text x="297.2" y="304.3" font-size="3.6" text-anchor="middle" fill="#3a3340">7.5</text>
<rect x="268.1" y="329.6" width="6.6" height="4.6" fill="#fffff4"/>
<text x="271.4" y="333.2" font-size="3.6" text-anchor="middle" fill="#3a3340">7.5</text>
<rect x="326.7" y="304.5" width="6.6" height="4.6" fill="#fffff4"/>
<text x="330.0" y="308.1" font-size="3.6" text-anchor="middle" fill="#3a3340">8.0</text>
<rect x="297.7" y="331.1" width="6.6" height="4.6" fill="#fffff4"/>
<text x="301.0" y="334.7" font-size="3.6" text-anchor="middle" fill="#3a3340">8.0</text>
<rect x="326.7" y="331.1" width="6.6" height="4.6" fill="#fffff4"/>
<text x="330.0" y="334.7" font-size="3.6" text-anchor="middle" fill="#3a3340">8.5</text>
<text x="211.9" y="350.4" font-size="4" text-anchor="middle" fill="#333">40</text>
<text x="233.5" y="350.4" font-size="4" text-anchor="middle" fill="#333">50</text>
<text x="255.2" y="350.4" font-size="4" text-anchor="middle" fill="#333">60</text>
<text x="276.8" y="350.4" font-size="4" text-anchor="middle" fill="#333">70</text>
<text x="298.5" y="350.4" font-size="4" text-anchor="middle" fill="#333">80</text>
<text x="320.1" y="350.4" font-size="4" text-anchor="middle" fill="#333">90</text>
<text x="341.8" y="350.4" font-size="4" text-anchor="middle" fill="#333">100</text>
<text x="200.4" y="207.3" font-size="4" text-anchor="end" fill="#333">-55</text>
<text x="200.4" y="227.6" font-size="4" text-anchor="end" fill="#333">-60</text>
<text x="200.4" y="247.9" font-size="4" text-anchor="end" fill="#333">-65</text>
<text x="200.4" y="268.3" font-size="4" text-anchor="end" fill="#333">-70</text>
<text x="200.4" y="288.6" font-size="4" text-anchor="end" fill="#333">-75</text>
<text x="200.4" y="308.9" font-size="4" text-anchor="end" fill="#333">-80</text>
<text x="200.4" y="329.2" font-size="4" text-anchor="end" fill="#333">-85</text>
<text x="272.2" y="360.3" font-size="4.5" text-anchor="middle" textLength="30" lengthAdjust="spacingAndGlyphs" fill="#222">Cluster size, %</text>
<text transform="translate(189.0 272.5) rotate(-90)" font-size="4.5" text-anchor="middle" textLength="50.0" lengthAdjust="spacingAndGlyphs" fill="#222">Synaptic potential, mV</text>
</g>
<g>
<rect x="374.6" y="203.8" width="138.3" height="138.2" fill="#51008c"/>
<path d="M388.4 206.8L390.5 203.8L512.9 203.8L512.9 342.0L374.6 342.0L374.6 235.2L378.1 226.6L381.5 219.1L385.0 212.5L388.2 207.2Z" fill="#45008c"/>
<path d="M405.7 205.1L407.1 203.8L512.9 203.8L512.9 342.0L374.6 342.0L374.6 259.7L378.1 250.8L381.5 242.7L385.0 235.4L388.4 228.8L391.9 223.0L395.5 217.6L398.8 213.1L403.8 207.2Z" fill="#38008c"/>
<path d="M419.5 207.2L423.9 203.8L512.9 203.8L512.9 342.0L374.6 342.0L374.6 280.3L377.3 272.9L380.1 266.0L385.0 254.8L389.8 245.2L391.9 241.4L395.3 235.5L398.0 231.4L400.4 227.9L403.0 224.5L405.7 221.0L409.2 217.1L412.6 213.5L416.1 210.2L419.5 207.2Z" fill="#2b008b"/>
<path d="M436.8 206.3L440.9 203.8L512.9 203.8L512.9 342.0L374.6 342.0L374.6 298.2L377.6 290.2L380.3 283.2L385.0 272.1L389.5 262.5L391.9 257.9L395.3 251.6L398.8 245.8L401.4 241.8L406.4 234.9L409.2 231.3L412.6 227.2L416.1 223.4L419.5 219.9L423.0 216.8L426.5 213.8L430.5 210.7L435.4 207.2Z" fill="#1f008a"/>
<path d="M454.1 205.8L458.1 203.8L512.9 203.8L512.9 342.0L374.6 342.0L374.6 314.4L379.8 300.5L382.5 293.6L385.5 286.7L388.4 280.1L391.9 273.0L395.3 266.4L397.5 262.5L402.3 254.6L405.7 249.4L408.7 245.2L414.0 238.3L417.0 234.9L420.2 231.4L423.6 227.9L427.2 224.5L431.2 221.0L435.6 217.6L440.3 214.2L443.8 211.8L447.2 209.7L451.5 207.2Z" fill="#16008b"/>
<path d="M468.0 207.1L475.5 203.8L512.9 203.8L512.9 342.0L374.6 342.0L374.6 329.3L378.8 317.8L382.8 307.4L385.7 300.5L388.8 293.6L391.9 287.0L395.3 280.1L398.8 273.7L402.3 267.7L405.7 262.2L409.2 257.0L412.6 252.2L415.3 248.7L421.1 241.8L424.3 238.3L427.7 234.9L431.3 231.4L435.2 227.9L439.5 224.5L443.8 221.3L450.7 216.6L457.6 212.5L461.0 210.6L467.7 207.2Z" fill="#100090"/>
<path d="M485.2 206.8L493.2 203.8L512.9 203.8L512.9 342.0L375.0 342.0L380.0 328.2L385.0 315.8L390.1 304.0L395.3 293.0L400.5 283.2L404.5 276.3L406.6 272.9L409.2 268.9L412.6 263.8L416.1 259.0L419.5 254.6L423.0 250.4L426.5 246.5L429.9 242.9L433.4 239.5L436.8 236.3L440.3 233.3L447.2 227.8L454.1 222.9L457.6 220.7L464.5 216.6L469.2 214.1L474.9 211.3L484.2 207.2Z" fill="#0c0098"/>
<path d="M502.5 206.6L511.1 203.8L512.9 203.8L512.9 342.0L379.7 342.0L385.0 328.5L388.4 320.3L391.0 314.4L394.3 307.4L397.7 300.5L403.2 290.2L409.2 280.2L412.6 274.8L416.1 269.8L419.5 265.1L423.0 260.7L426.5 256.6L429.9 252.7L433.4 249.1L436.8 245.6L440.3 242.4L445.0 238.3L449.2 234.9L453.8 231.4L461.0 226.5L464.5 224.3L470.1 221.0L478.3 216.7L483.8 214.1L488.7 212.0L495.6 209.2L500.9 207.2Z" fill="#0700a1"/>
<path d="M509.4 210.0L512.9 208.8L512.9 342.0L384.4 342.0L390.2 328.2L395.3 316.8L398.8 309.8L401.8 304.0L407.6 293.6L412.6 285.5L416.1 280.2L419.5 275.3L423.0 270.7L426.5 266.3L429.9 262.2L433.4 258.3L436.8 254.7L440.3 251.2L447.2 244.9L451.0 241.8L455.4 238.3L460.1 234.9L465.2 231.4L470.7 227.9L474.9 225.5L478.3 223.6L485.2 220.1L490.6 217.6L495.6 215.4L502.5 212.6L507.6 210.7Z" fill="#0400ad"/>
<path d="M506.0 217.0L512.9 214.3L512.9 342.0L389.1 342.0L395.2 328.2L400.3 317.8L405.7 307.5L411.8 297.1L416.1 290.2L418.5 286.7L423.4 279.8L429.9 271.4L433.4 267.4L436.8 263.5L443.8 256.4L450.7 250.1L457.6 244.4L461.0 241.7L468.0 236.9L476.6 231.4L485.2 226.6L489.3 224.5L495.6 221.5L504.6 217.6Z" fill="#0300be"/>
<path d="M512.9 219.8L512.9 342.0L393.8 342.0L398.8 331.2L403.8 321.3L409.5 310.9L412.6 305.5L416.1 299.9L419.5 294.6L423.0 289.6L426.5 284.9L429.9 280.4L436.1 272.9L442.5 266.0L449.5 259.1L453.3 255.6L457.3 252.1L464.5 246.5L471.4 241.5L478.3 237.0L485.2 233.0L488.7 231.1L494.7 227.9L499.1 225.8L509.9 221.0Z" fill="#0100cf"/>
<path d="M509.4 226.8L512.9 225.3L512.9 342.0L398.5 342.0L403.6 331.6L409.2 321.1L415.1 310.9L419.5 303.8L423.0 298.6L426.5 293.7L431.8 286.7L437.4 279.8L443.8 272.7L450.7 265.7L457.6 259.3L464.5 253.6L471.4 248.4L478.3 243.6L481.8 241.4L488.7 237.2L493.0 234.9L499.1 231.7L506.8 227.9Z" fill="#0001df"/>
<path d="M512.9 230.6L512.9 342.0L403.2 342.0L409.2 330.5L414.4 321.3L419.5 312.8L425.3 304.0L430.3 297.1L436.8 288.6L443.8 280.5L450.7 273.2L457.6 266.6L464.5 260.6L471.4 255.1L478.3 250.1L485.7 245.2L491.4 241.8L495.6 239.3L502.5 235.6L511.2 231.4Z" fill="#0003f0"/>
<path d="M509.4 237.6L512.9 236.0L512.9 342.0L407.9 342.0L412.6 333.2L417.6 324.7L423.0 316.0L428.8 307.4L433.8 300.5L440.3 292.3L445.1 286.7L451.5 279.8L457.6 273.7L464.5 267.4L471.4 261.7L478.3 256.4L485.2 251.6L492.2 247.2L499.1 243.2L508.1 238.3Z" fill="#0007fd"/>
<path d="M512.9 241.2L512.9 342.0L412.6 342.0L418.5 331.6L423.0 324.3L427.3 317.8L433.4 309.0L437.2 304.0L443.8 295.8L448.6 290.2L455.1 283.2L461.0 277.4L468.0 271.1L474.9 265.4L481.8 260.2L488.7 255.3L495.6 250.9L502.5 246.8L511.8 241.8Z" fill="#0420ea"/>
<path d="M509.4 248.3L512.9 246.4L512.9 342.0L417.3 342.0L421.4 335.1L426.5 327.0L432.7 317.8L436.8 312.0L443.1 304.0L447.2 299.0L452.0 293.6L457.6 287.6L464.5 280.8L469.5 276.3L474.9 271.7L481.8 266.2L488.7 261.2L495.6 256.6L502.5 252.3L508.8 248.7Z" fill="#0a41c0"/>
<path d="M512.9 251.6L512.9 342.0L422.1 342.0L426.5 334.8L430.8 328.2L435.6 321.3L440.7 314.4L446.1 307.4L450.7 302.0L455.1 297.1L461.7 290.2L468.0 284.1L472.7 279.8L478.3 275.0L485.2 269.6L492.2 264.5L499.1 259.9L506.0 255.6L511.9 252.1Z" fill="#126782"/>
<path d="M509.4 258.8L512.9 256.7L512.9 342.0L426.8 342.0L431.2 335.1L435.9 328.2L440.3 322.1L443.7 317.5L449.0 310.9L454.1 304.9L458.1 300.5L464.5 293.8L468.3 290.2L474.9 284.1L479.8 279.8L485.2 275.4L488.7 272.7L495.6 267.7L502.5 263.1L509.0 259.1Z" fill="#0e894b"/>
<path d="M512.9 261.8L512.9 342.0L431.5 342.0L436.1 335.1L440.3 329.2L443.8 324.5L449.0 317.8L454.1 311.6L457.8 307.4L464.2 300.5L468.0 296.7L471.4 293.3L478.3 287.0L482.7 283.2L488.7 278.4L492.2 275.8L499.1 270.8L506.0 266.1L511.7 262.5Z" fill="#0fa121"/>
<path d="M509.4 269.0L512.9 266.8L512.9 342.0L436.3 342.0L443.8 331.4L447.2 326.8L451.6 321.3L457.4 314.4L461.0 310.2L464.5 306.5L470.3 300.5L478.3 292.9L481.8 289.8L488.7 284.0L494.1 279.8L498.8 276.3L503.7 272.9L508.8 269.4Z" fill="#22b508"/>
<path d="M512.9 271.8L512.9 342.0L441.0 342.0L448.6 331.6L454.0 324.7L456.9 321.3L464.5 312.6L472.8 304.0L478.3 298.7L481.8 295.5L488.0 290.2L492.2 286.7L501.3 279.8L506.0 276.4L511.2 272.9Z" fill="#43c500"/>
<path d="M509.4 279.1L512.9 276.7L512.9 342.0L445.8 342.0L453.6 331.6L459.3 324.7L464.5 318.7L468.0 315.0L474.9 307.8L482.5 300.5L490.4 293.6L499.1 286.6L508.4 279.8Z" fill="#69d200"/>
<path d="M512.9 281.6L512.9 342.0L450.5 342.0L457.6 332.9L464.5 324.8L471.4 317.2L478.3 310.1L485.2 303.6L492.7 297.1L501.2 290.2L510.6 283.2Z" fill="#8edd00"/>
<path d="M512.9 286.5L512.9 342.0L455.3 342.0L461.0 334.8L468.0 326.7L474.9 319.3L481.8 312.3L488.7 305.8L495.6 299.8L503.3 293.6L512.6 286.7Z" fill="#b1e700"/>
<path d="M512.9 291.3L512.9 342.0L460.0 342.0L465.7 335.1L471.8 328.2L478.3 321.3L485.2 314.4L492.2 308.0L496.8 304.0L502.5 299.2L509.8 293.6Z" fill="#d2f100"/>
<path d="M512.9 296.1L512.9 342.0L464.8 342.0L470.7 335.1L474.9 330.5L481.8 323.2L487.2 317.8L492.2 313.2L499.1 307.1L506.0 301.4L511.6 297.1Z" fill="#e9f700"/>
<path d="M509.4 303.5L512.9 300.8L512.9 342.0L469.6 342.0L474.9 336.0L478.9 331.6L485.2 325.0L488.7 321.6L492.7 317.8L499.1 312.1L504.6 307.4L508.8 304.0Z" fill="#f9f600"/>
<path d="M512.9 305.5L512.9 342.0L474.3 342.0L478.3 337.6L483.9 331.6L492.2 323.4L498.2 317.8L502.2 314.4L510.5 307.4Z" fill="#ffeb00"/>
<path d="M512.9 310.2L512.9 342.0L479.1 342.0L485.2 335.5L488.7 331.9L495.6 325.2L503.8 317.8L512.0 310.9Z" fill="#ffd900"/>
<path d="M509.4 317.7L512.9 314.8L512.9 342.0L483.9 342.0L488.7 337.0L495.6 330.1L502.5 323.7L509.3 317.8Z" fill="#ffc600"/>
<path d="M512.9 319.4L512.9 342.0L488.7 342.0L495.5 335.1L499.1 331.6L506.0 325.3L510.7 321.3Z" fill="#ffb200"/>
<path d="M512.9 323.9L512.9 342.0L493.5 342.0L502.5 333.2L512.0 324.7Z" fill="#ffa100"/>
<path d="M509.4 331.5L512.9 328.5L512.9 342.0L498.3 342.0L502.5 337.9L509.3 331.6Z" fill="#ff8f00"/>
<path d="M512.9 333.0L512.9 342.0L503.1 342.0L510.5 335.1Z" fill="#ff7e00"/>
<path d="M512.9 337.4L512.9 342.0L507.9 342.0L511.7 338.5Z" fill="#ff6d00"/>
<path d="M512.9 341.8L512.9 342.0L512.7 342.0Z" fill="#ff5c00"/>
<path d="M374.6 280.3L377.3 272.9L380.1 266.0L385.0 254.8L389.8 245.2L391.9 241.4L395.8 234.9L398.8 230.2L402.3 225.4L405.7 221.1L409.2 217.1L412.6 213.5L416.1 210.2L419.5 207.2L423.9 203.8" fill="none" stroke="#fff" stroke-opacity="0.4" stroke-width="0.6"/>
<path d="M384.4 342.0L390.2 328.2L393.3 321.3L396.5 314.4L402.3 303.1L405.7 296.9L409.2 291.0L412.6 285.5L416.1 280.2L419.5 275.3L423.0 270.7L426.5 266.3L429.9 262.2L433.4 258.3L436.8 254.7L443.8 248.0L447.2 244.9L454.1 239.3L461.0 234.2L465.2 231.4L470.7 227.9L476.7 224.5L481.8 221.8L490.6 217.6L495.6 215.4L502.5 212.6L512.9 208.8" fill="none" stroke="#fff" stroke-opacity="0.4" stroke-width="0.6"/>
<path d="M412.6 342.0L418.5 331.6L423.0 324.3L427.3 317.8L433.4 309.0L439.9 300.5L445.6 293.6L451.8 286.7L457.6 280.7L464.5 274.2L470.0 269.4L474.9 265.4L483.3 259.1L492.2 253.1L499.1 248.8L506.0 244.9L512.9 241.2" fill="none" stroke="#fff" stroke-opacity="0.4" stroke-width="0.6"/>
<path d="M441.0 342.0L448.6 331.6L454.0 324.7L457.6 320.5L461.0 316.5L466.1 310.9L471.4 305.4L474.9 302.0L480.1 297.1L484.0 293.6L492.2 286.7L496.6 283.2L502.5 278.9L512.9 271.8" fill="none" stroke="#fff" stroke-opacity="0.4" stroke-width="0.6"/>
<path d="M469.6 342.0L474.9 336.0L478.9 331.6L485.2 325.0L489.1 321.3L495.6 315.2L500.5 310.9L506.0 306.3L512.9 300.8" fill="none" stroke="#fff" stroke-opacity="0.4" stroke-width="0.6"/>
<path d="M498.3 342.0L506.0 334.7L512.9 328.5" fill="none" stroke="#fff" stroke-opacity="0.4" stroke-width="0.6"/>
<rect x="417.9" y="205.0" width="6.6" height="4.6" fill="#fffff4"/>
<text x="421.2" y="208.6" font-size="3.6" text-anchor="middle" fill="#3a3340">6.0</text>
<rect x="393.2" y="235.0" width="6.6" height="4.6" fill="#fffff4"/>
<text x="396.5" y="238.6" font-size="3.6" text-anchor="middle" fill="#3a3340">6.0</text>
<rect x="373.6" y="268.2" width="6.6" height="4.6" fill="#fffff4"/>
<text x="376.9" y="271.8" font-size="3.6" text-anchor="middle" fill="#3a3340">6.0</text>
<rect x="492.4" y="212.7" width="6.6" height="4.6" fill="#fffff4"/>
<text x="495.7" y="216.3" font-size="3.6" text-anchor="middle" fill="#3a3340">6.5</text>
<rect x="458.0" y="229.6" width="6.6" height="4.6" fill="#fffff4"/>
<text x="461.3" y="233.2" font-size="3.6" text-anchor="middle" fill="#3a3340">6.5</text>
<rect x="429.5" y="256.2" width="6.6" height="4.6" fill="#fffff4"/>
<text x="432.8" y="259.8" font-size="3.6" text-anchor="middle" fill="#3a3340">6.5</text>
<rect x="406.0" y="287.5" width="6.6" height="4.6" fill="#fffff4"/>
<text x="409.3" y="291.1" font-size="3.6" text-anchor="middle" fill="#3a3340">6.5</text>
<rect x="389.0" y="322.2" width="6.6" height="4.6" fill="#fffff4"/>
<text x="392.3" y="325.8" font-size="3.6" text-anchor="middle" fill="#3a3340">6.5</text>
<rect x="497.4" y="245.4" width="6.6" height="4.6" fill="#fffff4"/>
<text x="500.7" y="249.0" font-size="3.6" text-anchor="middle" fill="#3a3340">7.0</text>
<rect x="465.7" y="267.8" width="6.6" height="4.6" fill="#fffff4"/>
<text x="469.0" y="271.4" font-size="3.6" text-anchor="middle" fill="#3a3340">7.0</text>
<rect x="438.7" y="295.6" width="6.6" height="4.6" fill="#fffff4"/>
<text x="442.0" y="299.2" font-size="3.6" text-anchor="middle" fill="#3a3340">7.0</text>
<rect x="416.0" y="327.6" width="6.6" height="4.6" fill="#fffff4"/>
<text x="419.3" y="331.2" font-size="3.6" text-anchor="middle" fill="#3a3340">7.0</text>
<rect x="500.8" y="277.8" width="6.6" height="4.6" fill="#fffff4"/>
<text x="504.1" y="281.4" font-size="3.6" text-anchor="middle" fill="#3a3340">7.5</text>
<rect x="470.0" y="300.6" width="6.6" height="4.6" fill="#fffff4"/>
<text x="473.3" y="304.2" font-size="3.6" text-anchor="middle" fill="#3a3340">7.5</text>
<rect x="444.9" y="330.7" width="6.6" height="4.6" fill="#fffff4"/>
<text x="448.2" y="334.3" font-size="3.6" text-anchor="middle" fill="#3a3340">7.5</text>
<rect x="501.6" y="304.8" width="6.6" height="4.6" fill="#fffff4"/>
<text x="504.9" y="308.4" font-size="3.6" text-anchor="middle" fill="#3a3340">8.0</text>
<rect x="474.2" y="331.8" width="6.6" height="4.6" fill="#fffff4"/>
<text x="477.5" y="335.4" font-size="3.6" text-anchor="middle" fill="#3a3340">8.0</text>
<rect x="501.6" y="331.8" width="6.6" height="4.6" fill="#fffff4"/>
<text x="504.9" y="335.4" font-size="3.6" text-anchor="middle" fill="#3a3340">8.5</text>
<text x="383.2" y="348.4" font-size="4" text-anchor="middle" fill="#333">40</text>
<text x="404.9" y="348.4" font-size="4" text-anchor="middle" fill="#333">50</text>
<text x="426.5" y="348.4" font-size="4" text-anchor="middle" fill="#333">60</text>
<text x="448.1" y="348.4" font-size="4" text-anchor="middle" fill="#333">70</text>
<text x="469.7" y="348.4" font-size="4" text-anchor="middle" fill="#333">80</text>
<text x="491.3" y="348.4" font-size="4" text-anchor="middle" fill="#333">90</text>
<text x="512.9" y="348.4" font-size="4" text-anchor="middle" fill="#333">100</text>
<text x="371.8" y="205.2" font-size="4" text-anchor="end" fill="#333">-55</text>
<text x="371.8" y="225.5" font-size="4" text-anchor="end" fill="#333">-60</text>
<text x="371.8" y="245.8" font-size="4" text-anchor="end" fill="#333">-65</text>
<text x="371.8" y="266.1" font-size="4" text-anchor="end" fill="#333">-70</text>
<text x="371.8" y="286.5" font-size="4" text-anchor="end" fill="#333">-75</text>
<text x="371.8" y="306.8" font-size="4" text-anchor="end" fill="#333">-80</text>
<text x="371.8" y="327.1" font-size="4" text-anchor="end" fill="#333">-85</text>
<text x="443.6" y="358.6" font-size="4.5" text-anchor="middle" textLength="30" lengthAdjust="spacingAndGlyphs" fill="#222">Cluster size, %</text>
<text transform="translate(361.0 272.6) rotate(-90)" font-size="4.5" text-anchor="middle" textLength="46.3" lengthAdjust="spacingAndGlyphs" fill="#222">Synaptic potential, mV</text>
</g>
<text x="52.3" y="12.0" font-size="9.7" textLength="80.2" lengthAdjust="spacingAndGlyphs" stroke="#111" stroke-width=".15">The central cluster</text>
<text x="227.3" y="12.7" font-size="9.7" textLength="82.4" lengthAdjust="spacingAndGlyphs" stroke="#111" stroke-width=".15">The divided cluster</text>
<text x="409.7" y="10.4" font-size="9.7" textLength="68.3" lengthAdjust="spacingAndGlyphs" stroke="#111" stroke-width=".15">The rear cluster</text>
<text x="154.9" y="194.7" font-size="17.4" textLength="259.9" lengthAdjust="spacingAndGlyphs" fill="#000" stroke="#000" stroke-width=".3">Membrane potential changes, mV</text>
<text x="171.4" y="383.2" font-size="17.5" textLength="251.3" lengthAdjust="spacingAndGlyphs" fill="#000" stroke="#000" stroke-width=".3">Chloride ion concentrations, mM</text>
<rect x="530" y="119.6" width="9.2" height="4" fill="#3a0a8a" stroke="#555" stroke-opacity=".4" stroke-width=".3"/>
<text x="541" y="122.9" font-size="4" fill="#333">-14</text>
<rect x="530" y="125.0" width="9.2" height="4" fill="#0a0a96" stroke="#555" stroke-opacity=".4" stroke-width=".3"/>
<text x="541" y="128.3" font-size="4" fill="#333">-12</text>
<rect x="530" y="130.3" width="9.2" height="4" fill="#1010ff" stroke="#555" stroke-opacity=".4" stroke-width=".3"/>
<text x="541" y="133.6" font-size="4" fill="#333">-10</text>
<rect x="530" y="135.7" width="9.2" height="4" fill="#108a50" stroke="#555" stroke-opacity=".4" stroke-width=".3"/>
<text x="541" y="139.0" font-size="4" fill="#333">-8</text>
<rect x="530" y="141.0" width="9.2" height="4" fill="#70d010" stroke="#555" stroke-opacity=".4" stroke-width=".3"/>
<text x="541" y="144.3" font-size="4" fill="#333">-6</text>
<rect x="530" y="146.4" width="9.2" height="4" fill="#ffe000" stroke="#555" stroke-opacity=".4" stroke-width=".3"/>
<text x="541" y="149.7" font-size="4" fill="#333">-4</text>
<rect x="530" y="151.8" width="9.2" height="4" fill="#ff8000" stroke="#555" stroke-opacity=".4" stroke-width=".3"/>
<text x="541" y="155.1" font-size="4" fill="#333">-2</text>
<rect x="523.5" y="305.0" width="9.4" height="4" fill="#3a0a8a" stroke="#555" stroke-opacity=".4" stroke-width=".3"/>
<text x="534.4" y="308.3" font-size="4" fill="#333">6.0</text>
<rect x="523.5" y="310.3" width="9.4" height="4" fill="#0a0a96" stroke="#555" stroke-opacity=".4" stroke-width=".3"/>
<text x="534.4" y="313.6" font-size="4" fill="#333">6.5</text>
<rect x="523.5" y="315.7" width="9.4" height="4" fill="#1010ff" stroke="#555" stroke-opacity=".4" stroke-width=".3"/>
<text x="534.4" y="319.0" font-size="4" fill="#333">7.0</text>
<rect x="523.5" y="321.0" width="9.4" height="4" fill="#10a020" stroke="#555" stroke-opacity=".4" stroke-width=".3"/>
<text x="534.4" y="324.3" font-size="4" fill="#333">7.5</text>
<rect x="523.5" y="326.3" width="9.4" height="4" fill="#c0f000" stroke="#555" stroke-opacity=".4" stroke-width=".3"/>
<text x="534.4" y="329.6" font-size="4" fill="#333">8.0</text>
<rect x="523.5" y="331.6" width="9.4" height="4" fill="#ffa000" stroke="#555" stroke-opacity=".4" stroke-width=".3"/>
<text x="534.4" y="334.9" font-size="4" fill="#333">8.5</text>
<rect x="523.5" y="337.0" width="9.4" height="4" fill="#ff4000" stroke="#555" stroke-opacity=".4" stroke-width=".3"/>
<text x="534.4" y="340.3" font-size="4" fill="#333">9.0</text>
</svg></body></html>
